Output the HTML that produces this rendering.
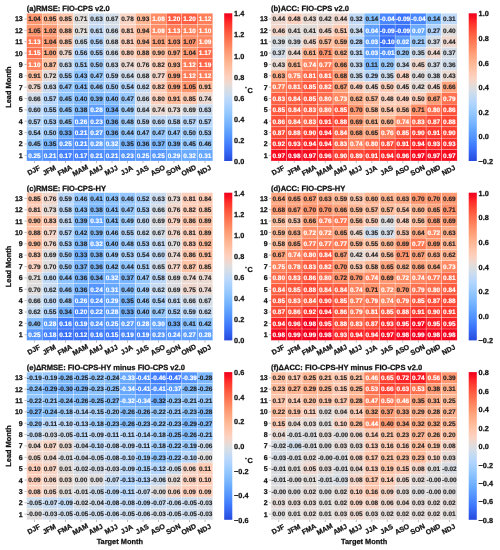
<!DOCTYPE html>
<html lang="en"><head><meta charset="utf-8"><title>FIO-CPS heatmaps</title>
<style>html,body{margin:0;padding:0;background:#fff}body{width:500px;height:550px;overflow:hidden}svg{display:block}</style>
</head><body>
<svg width="500" height="550" viewBox="0 0 500 550" font-family="'Liberation Sans', Arial, sans-serif" font-weight="bold" text-rendering="geometricPrecision">
<rect width="500" height="550" fill="#fff"/>
<style>.t text{stroke:#111;stroke-width:0.25px}.t text.d{fill:#262626;stroke:#262626;stroke-width:0.15px}.t text.w{fill:#fff;stroke:#fff;stroke-width:0.15px}</style>
<defs><linearGradient id="cw" x1="0" y1="1" x2="0" y2="0">
<stop offset="0.00%" stop-color="#274adc"/>
<stop offset="3.12%" stop-color="#2d59e8"/>
<stop offset="6.25%" stop-color="#3568f3"/>
<stop offset="9.38%" stop-color="#3d76fc"/>
<stop offset="12.50%" stop-color="#4684ff"/>
<stop offset="15.62%" stop-color="#5091ff"/>
<stop offset="18.75%" stop-color="#5b9dff"/>
<stop offset="21.88%" stop-color="#67a8ff"/>
<stop offset="25.00%" stop-color="#74b3ff"/>
<stop offset="28.12%" stop-color="#81bcff"/>
<stop offset="31.25%" stop-color="#8fc5ff"/>
<stop offset="34.38%" stop-color="#9dccff"/>
<stop offset="37.50%" stop-color="#aad2ff"/>
<stop offset="40.62%" stop-color="#b8d7fc"/>
<stop offset="43.75%" stop-color="#c5daf3"/>
<stop offset="46.88%" stop-color="#d2dde9"/>
<stop offset="50.00%" stop-color="#dfdddd"/>
<stop offset="53.12%" stop-color="#eed8cf"/>
<stop offset="56.25%" stop-color="#fbd2c1"/>
<stop offset="59.38%" stop-color="#ffcab3"/>
<stop offset="62.50%" stop-color="#ffc2a4"/>
<stop offset="65.62%" stop-color="#ffb896"/>
<stop offset="68.75%" stop-color="#ffae88"/>
<stop offset="71.88%" stop-color="#ffa27b"/>
<stop offset="75.00%" stop-color="#ff956d"/>
<stop offset="78.12%" stop-color="#ff8660"/>
<stop offset="81.25%" stop-color="#ff7753"/>
<stop offset="84.38%" stop-color="#ff6747"/>
<stop offset="87.50%" stop-color="#ff563c"/>
<stop offset="90.62%" stop-color="#ff4332"/>
<stop offset="93.75%" stop-color="#ff2e29"/>
<stop offset="96.88%" stop-color="#f91321"/>
<stop offset="100.00%" stop-color="#ef001c"/>
</linearGradient></defs>
<g id="panel-a" class="t">
<text x="26.7" y="11.3" font-size="7.55" fill="#111">(a)RMSE: FIO-CPS v2.0</text>
<g stroke="#fff" stroke-width="0.25">
<rect x="26.70" y="13.30" width="15.51" height="11.36" fill="#ff9870"/>
<rect x="42.21" y="13.30" width="15.51" height="11.36" fill="#ffb28e"/>
<rect x="57.72" y="13.30" width="15.51" height="11.36" fill="#ffc7ad"/>
<rect x="73.22" y="13.30" width="15.51" height="11.36" fill="#e1dddb"/>
<rect x="88.73" y="13.30" width="15.51" height="11.36" fill="#cadbef"/>
<rect x="104.24" y="13.30" width="15.51" height="11.36" fill="#d5dde6"/>
<rect x="119.75" y="13.30" width="15.51" height="11.36" fill="#f8d4c4"/>
<rect x="135.26" y="13.30" width="15.51" height="11.36" fill="#ffb693"/>
<rect x="150.77" y="13.30" width="15.51" height="11.36" fill="#ff8c65"/>
<rect x="166.27" y="13.30" width="15.51" height="11.36" fill="#ff6043"/>
<rect x="181.78" y="13.30" width="15.51" height="11.36" fill="#ff6043"/>
<rect x="197.29" y="13.30" width="15.51" height="11.36" fill="#ff7f5a"/>
<rect x="26.70" y="24.66" width="15.51" height="11.36" fill="#ff956d"/>
<rect x="42.21" y="24.66" width="15.51" height="11.36" fill="#ff9e77"/>
<rect x="57.72" y="24.66" width="15.51" height="11.36" fill="#ffc2a4"/>
<rect x="73.22" y="24.66" width="15.51" height="11.36" fill="#e1dddb"/>
<rect x="88.73" y="24.66" width="15.51" height="11.36" fill="#c4daf4"/>
<rect x="104.24" y="24.66" width="15.51" height="11.36" fill="#d2dde9"/>
<rect x="119.75" y="24.66" width="15.51" height="11.36" fill="#ffceba"/>
<rect x="135.26" y="24.66" width="15.51" height="11.36" fill="#ffb491"/>
<rect x="150.77" y="24.66" width="15.51" height="11.36" fill="#ff8c65"/>
<rect x="166.27" y="24.66" width="15.51" height="11.36" fill="#ff7b56"/>
<rect x="181.78" y="24.66" width="15.51" height="11.36" fill="#ff855e"/>
<rect x="197.29" y="24.66" width="15.51" height="11.36" fill="#ff855e"/>
<rect x="26.70" y="36.02" width="15.51" height="11.36" fill="#ff7b56"/>
<rect x="42.21" y="36.02" width="15.51" height="11.36" fill="#ff9870"/>
<rect x="57.72" y="36.02" width="15.51" height="11.36" fill="#ffc7ad"/>
<rect x="73.22" y="36.02" width="15.51" height="11.36" fill="#cfdceb"/>
<rect x="88.73" y="36.02" width="15.51" height="11.36" fill="#b5d6fe"/>
<rect x="104.24" y="36.02" width="15.51" height="11.36" fill="#d8dde3"/>
<rect x="119.75" y="36.02" width="15.51" height="11.36" fill="#ffceba"/>
<rect x="135.26" y="36.02" width="15.51" height="11.36" fill="#ffb491"/>
<rect x="150.77" y="36.02" width="15.51" height="11.36" fill="#ffa27b"/>
<rect x="166.27" y="36.02" width="15.51" height="11.36" fill="#ff9b74"/>
<rect x="181.78" y="36.02" width="15.51" height="11.36" fill="#ff8f68"/>
<rect x="197.29" y="36.02" width="15.51" height="11.36" fill="#ff8862"/>
<rect x="26.70" y="47.38" width="15.51" height="11.36" fill="#ff7350"/>
<rect x="42.21" y="47.38" width="15.51" height="11.36" fill="#ffa57e"/>
<rect x="57.72" y="47.38" width="15.51" height="11.36" fill="#efd7cd"/>
<rect x="73.22" y="47.38" width="15.51" height="11.36" fill="#b5d6fe"/>
<rect x="88.73" y="47.38" width="15.51" height="11.36" fill="#b1d4ff"/>
<rect x="104.24" y="47.38" width="15.51" height="11.36" fill="#d2dde9"/>
<rect x="119.75" y="47.38" width="15.51" height="11.36" fill="#fdd0bd"/>
<rect x="135.26" y="47.38" width="15.51" height="11.36" fill="#ffc2a4"/>
<rect x="150.77" y="47.38" width="15.51" height="11.36" fill="#ffbd9d"/>
<rect x="166.27" y="47.38" width="15.51" height="11.36" fill="#ffac87"/>
<rect x="181.78" y="47.38" width="15.51" height="11.36" fill="#ff9870"/>
<rect x="197.29" y="47.38" width="15.51" height="11.36" fill="#ff6d4c"/>
<rect x="26.70" y="58.75" width="15.51" height="11.36" fill="#ff855e"/>
<rect x="42.21" y="58.75" width="15.51" height="11.36" fill="#ffc3a6"/>
<rect x="57.72" y="58.75" width="15.51" height="11.36" fill="#cadbef"/>
<rect x="73.22" y="58.75" width="15.51" height="11.36" fill="#a5d0ff"/>
<rect x="88.73" y="58.75" width="15.51" height="11.36" fill="#a2ceff"/>
<rect x="104.24" y="58.75" width="15.51" height="11.36" fill="#cadbef"/>
<rect x="119.75" y="58.75" width="15.51" height="11.36" fill="#ecd9d1"/>
<rect x="135.26" y="58.75" width="15.51" height="11.36" fill="#f1d7cb"/>
<rect x="150.77" y="58.75" width="15.51" height="11.36" fill="#ffcdb8"/>
<rect x="166.27" y="58.75" width="15.51" height="11.36" fill="#ffb693"/>
<rect x="181.78" y="58.75" width="15.51" height="11.36" fill="#ff7f5a"/>
<rect x="197.29" y="58.75" width="15.51" height="11.36" fill="#ff6546"/>
<rect x="26.70" y="70.11" width="15.51" height="11.36" fill="#ffbb9a"/>
<rect x="42.21" y="70.11" width="15.51" height="11.36" fill="#e4dbd8"/>
<rect x="57.72" y="70.11" width="15.51" height="11.36" fill="#b1d4ff"/>
<rect x="73.22" y="70.11" width="15.51" height="11.36" fill="#8bc3ff"/>
<rect x="88.73" y="70.11" width="15.51" height="11.36" fill="#97c9ff"/>
<rect x="104.24" y="70.11" width="15.51" height="11.36" fill="#bdd8f9"/>
<rect x="119.75" y="70.11" width="15.51" height="11.36" fill="#cddced"/>
<rect x="135.26" y="70.11" width="15.51" height="11.36" fill="#d8dde3"/>
<rect x="150.77" y="70.11" width="15.51" height="11.36" fill="#f4d5c8"/>
<rect x="166.27" y="70.11" width="15.51" height="11.36" fill="#ffa680"/>
<rect x="181.78" y="70.11" width="15.51" height="11.36" fill="#ff7f5a"/>
<rect x="197.29" y="70.11" width="15.51" height="11.36" fill="#ff7f5a"/>
<rect x="26.70" y="81.47" width="15.51" height="11.36" fill="#efd7cd"/>
<rect x="42.21" y="81.47" width="15.51" height="11.36" fill="#cadbef"/>
<rect x="57.72" y="81.47" width="15.51" height="11.36" fill="#97c9ff"/>
<rect x="73.22" y="81.47" width="15.51" height="11.36" fill="#85beff"/>
<rect x="88.73" y="81.47" width="15.51" height="11.36" fill="#96c8ff"/>
<rect x="104.24" y="81.47" width="15.51" height="11.36" fill="#a2ceff"/>
<rect x="119.75" y="81.47" width="15.51" height="11.36" fill="#aed3ff"/>
<rect x="135.26" y="81.47" width="15.51" height="11.36" fill="#c7dbf2"/>
<rect x="150.77" y="81.47" width="15.51" height="11.36" fill="#ffcdb8"/>
<rect x="166.27" y="81.47" width="15.51" height="11.36" fill="#ffa680"/>
<rect x="181.78" y="81.47" width="15.51" height="11.36" fill="#ff956d"/>
<rect x="197.29" y="81.47" width="15.51" height="11.36" fill="#ffbb9a"/>
<rect x="26.70" y="92.83" width="15.51" height="11.36" fill="#d2dde9"/>
<rect x="42.21" y="92.83" width="15.51" height="11.36" fill="#b8d7fc"/>
<rect x="57.72" y="92.83" width="15.51" height="11.36" fill="#92c7ff"/>
<rect x="73.22" y="92.83" width="15.51" height="11.36" fill="#83bdff"/>
<rect x="88.73" y="92.83" width="15.51" height="11.36" fill="#80bbff"/>
<rect x="104.24" y="92.83" width="15.51" height="11.36" fill="#83bdff"/>
<rect x="119.75" y="92.83" width="15.51" height="11.36" fill="#97c9ff"/>
<rect x="135.26" y="92.83" width="15.51" height="11.36" fill="#d2dde9"/>
<rect x="150.77" y="92.83" width="15.51" height="11.36" fill="#fdd0bd"/>
<rect x="166.27" y="92.83" width="15.51" height="11.36" fill="#ffbb9a"/>
<rect x="181.78" y="92.83" width="15.51" height="11.36" fill="#ffc7ad"/>
<rect x="197.29" y="92.83" width="15.51" height="11.36" fill="#ecd9d1"/>
<rect x="26.70" y="104.19" width="15.51" height="11.36" fill="#c0d9f7"/>
<rect x="42.21" y="104.19" width="15.51" height="11.36" fill="#b1d4ff"/>
<rect x="57.72" y="104.19" width="15.51" height="11.36" fill="#92c7ff"/>
<rect x="73.22" y="104.19" width="15.51" height="11.36" fill="#7cb9ff"/>
<rect x="88.73" y="104.19" width="15.51" height="11.36" fill="#60a1ff"/>
<rect x="104.24" y="104.19" width="15.51" height="11.36" fill="#71b0ff"/>
<rect x="119.75" y="104.19" width="15.51" height="11.36" fill="#9ecdff"/>
<rect x="135.26" y="104.19" width="15.51" height="11.36" fill="#cddced"/>
<rect x="150.77" y="104.19" width="15.51" height="11.36" fill="#ecd9d1"/>
<rect x="166.27" y="104.19" width="15.51" height="11.36" fill="#e8dad4"/>
<rect x="181.78" y="104.19" width="15.51" height="11.36" fill="#dbdde0"/>
<rect x="197.29" y="104.19" width="15.51" height="11.36" fill="#cadbef"/>
<rect x="26.70" y="115.55" width="15.51" height="11.36" fill="#b8d7fc"/>
<rect x="42.21" y="115.55" width="15.51" height="11.36" fill="#aad2ff"/>
<rect x="57.72" y="115.55" width="15.51" height="11.36" fill="#92c7ff"/>
<rect x="73.22" y="115.55" width="15.51" height="11.36" fill="#5a9bff"/>
<rect x="88.73" y="115.55" width="15.51" height="11.36" fill="#5394ff"/>
<rect x="104.24" y="115.55" width="15.51" height="11.36" fill="#76b4ff"/>
<rect x="119.75" y="115.55" width="15.51" height="11.36" fill="#9bcbff"/>
<rect x="135.26" y="115.55" width="15.51" height="11.36" fill="#bdd8f9"/>
<rect x="150.77" y="115.55" width="15.51" height="11.36" fill="#c0d9f7"/>
<rect x="166.27" y="115.55" width="15.51" height="11.36" fill="#bbd8fa"/>
<rect x="181.78" y="115.55" width="15.51" height="11.36" fill="#b8d7fc"/>
<rect x="197.29" y="115.55" width="15.51" height="11.36" fill="#b8d7fc"/>
<rect x="26.70" y="126.92" width="15.51" height="11.36" fill="#aed3ff"/>
<rect x="42.21" y="126.92" width="15.51" height="11.36" fill="#a2ceff"/>
<rect x="57.72" y="126.92" width="15.51" height="11.36" fill="#6eaeff"/>
<rect x="73.22" y="126.92" width="15.51" height="11.36" fill="#4e8eff"/>
<rect x="88.73" y="126.92" width="15.51" height="11.36" fill="#5d9eff"/>
<rect x="104.24" y="126.92" width="15.51" height="11.36" fill="#76b4ff"/>
<rect x="119.75" y="126.92" width="15.51" height="11.36" fill="#8fc5ff"/>
<rect x="135.26" y="126.92" width="15.51" height="11.36" fill="#97c9ff"/>
<rect x="150.77" y="126.92" width="15.51" height="11.36" fill="#97c9ff"/>
<rect x="166.27" y="126.92" width="15.51" height="11.36" fill="#97c9ff"/>
<rect x="181.78" y="126.92" width="15.51" height="11.36" fill="#a2ceff"/>
<rect x="197.29" y="126.92" width="15.51" height="11.36" fill="#aad2ff"/>
<rect x="26.70" y="138.28" width="15.51" height="11.36" fill="#92c7ff"/>
<rect x="42.21" y="138.28" width="15.51" height="11.36" fill="#74b3ff"/>
<rect x="57.72" y="138.28" width="15.51" height="11.36" fill="#5798ff"/>
<rect x="73.22" y="138.28" width="15.51" height="11.36" fill="#4e8eff"/>
<rect x="88.73" y="138.28" width="15.51" height="11.36" fill="#60a1ff"/>
<rect x="104.24" y="138.28" width="15.51" height="11.36" fill="#6babff"/>
<rect x="119.75" y="138.28" width="15.51" height="11.36" fill="#74b3ff"/>
<rect x="135.26" y="138.28" width="15.51" height="11.36" fill="#76b4ff"/>
<rect x="150.77" y="138.28" width="15.51" height="11.36" fill="#79b6ff"/>
<rect x="166.27" y="138.28" width="15.51" height="11.36" fill="#80bbff"/>
<rect x="181.78" y="138.28" width="15.51" height="11.36" fill="#92c7ff"/>
<rect x="197.29" y="138.28" width="15.51" height="11.36" fill="#96c8ff"/>
<rect x="26.70" y="149.64" width="15.51" height="11.36" fill="#5798ff"/>
<rect x="42.21" y="149.64" width="15.51" height="11.36" fill="#4e8eff"/>
<rect x="57.72" y="149.64" width="15.51" height="11.36" fill="#4582ff"/>
<rect x="73.22" y="149.64" width="15.51" height="11.36" fill="#4582ff"/>
<rect x="88.73" y="149.64" width="15.51" height="11.36" fill="#4e8eff"/>
<rect x="104.24" y="149.64" width="15.51" height="11.36" fill="#4e8eff"/>
<rect x="119.75" y="149.64" width="15.51" height="11.36" fill="#5394ff"/>
<rect x="135.26" y="149.64" width="15.51" height="11.36" fill="#5798ff"/>
<rect x="150.77" y="149.64" width="15.51" height="11.36" fill="#5798ff"/>
<rect x="166.27" y="149.64" width="15.51" height="11.36" fill="#63a4ff"/>
<rect x="181.78" y="149.64" width="15.51" height="11.36" fill="#6babff"/>
<rect x="197.29" y="149.64" width="15.51" height="11.36" fill="#67a8ff"/>
</g>
<g font-size="6.45" text-anchor="middle" stroke-width="0.15">
<text x="34.45" y="21.27" class="d">1.04</text>
<text x="49.96" y="21.27" class="d">0.95</text>
<text x="65.47" y="21.27" class="d">0.85</text>
<text x="80.98" y="21.27" class="d">0.71</text>
<text x="96.49" y="21.27" class="d">0.63</text>
<text x="112.00" y="21.27" class="d">0.67</text>
<text x="127.50" y="21.27" class="d">0.78</text>
<text x="143.01" y="21.27" class="d">0.93</text>
<text x="158.52" y="21.27" class="w">1.08</text>
<text x="174.03" y="21.27" class="w">1.20</text>
<text x="189.54" y="21.27" class="w">1.20</text>
<text x="205.05" y="21.27" class="w">1.12</text>
<text x="34.45" y="32.63" class="d">1.05</text>
<text x="49.96" y="32.63" class="d">1.02</text>
<text x="65.47" y="32.63" class="d">0.88</text>
<text x="80.98" y="32.63" class="d">0.71</text>
<text x="96.49" y="32.63" class="d">0.61</text>
<text x="112.00" y="32.63" class="d">0.66</text>
<text x="127.50" y="32.63" class="d">0.81</text>
<text x="143.01" y="32.63" class="d">0.94</text>
<text x="158.52" y="32.63" class="w">1.08</text>
<text x="174.03" y="32.63" class="w">1.13</text>
<text x="189.54" y="32.63" class="w">1.10</text>
<text x="205.05" y="32.63" class="w">1.10</text>
<text x="34.45" y="43.99" class="w">1.13</text>
<text x="49.96" y="43.99" class="d">1.04</text>
<text x="65.47" y="43.99" class="d">0.85</text>
<text x="80.98" y="43.99" class="d">0.65</text>
<text x="96.49" y="43.99" class="d">0.56</text>
<text x="112.00" y="43.99" class="d">0.68</text>
<text x="127.50" y="43.99" class="d">0.81</text>
<text x="143.01" y="43.99" class="d">0.94</text>
<text x="158.52" y="43.99" class="d">1.01</text>
<text x="174.03" y="43.99" class="d">1.03</text>
<text x="189.54" y="43.99" class="d">1.07</text>
<text x="205.05" y="43.99" class="w">1.09</text>
<text x="34.45" y="55.36" class="w">1.15</text>
<text x="49.96" y="55.36" class="d">1.00</text>
<text x="65.47" y="55.36" class="d">0.75</text>
<text x="80.98" y="55.36" class="d">0.56</text>
<text x="96.49" y="55.36" class="d">0.55</text>
<text x="112.00" y="55.36" class="d">0.66</text>
<text x="127.50" y="55.36" class="d">0.80</text>
<text x="143.01" y="55.36" class="d">0.88</text>
<text x="158.52" y="55.36" class="d">0.90</text>
<text x="174.03" y="55.36" class="d">0.97</text>
<text x="189.54" y="55.36" class="d">1.04</text>
<text x="205.05" y="55.36" class="w">1.17</text>
<text x="34.45" y="66.72" class="w">1.10</text>
<text x="49.96" y="66.72" class="d">0.87</text>
<text x="65.47" y="66.72" class="d">0.63</text>
<text x="80.98" y="66.72" class="d">0.51</text>
<text x="96.49" y="66.72" class="d">0.50</text>
<text x="112.00" y="66.72" class="d">0.63</text>
<text x="127.50" y="66.72" class="d">0.74</text>
<text x="143.01" y="66.72" class="d">0.76</text>
<text x="158.52" y="66.72" class="d">0.82</text>
<text x="174.03" y="66.72" class="d">0.93</text>
<text x="189.54" y="66.72" class="w">1.12</text>
<text x="205.05" y="66.72" class="w">1.19</text>
<text x="34.45" y="78.08" class="d">0.91</text>
<text x="49.96" y="78.08" class="d">0.72</text>
<text x="65.47" y="78.08" class="d">0.55</text>
<text x="80.98" y="78.08" class="d">0.43</text>
<text x="96.49" y="78.08" class="d">0.47</text>
<text x="112.00" y="78.08" class="d">0.59</text>
<text x="127.50" y="78.08" class="d">0.64</text>
<text x="143.01" y="78.08" class="d">0.68</text>
<text x="158.52" y="78.08" class="d">0.77</text>
<text x="174.03" y="78.08" class="d">0.99</text>
<text x="189.54" y="78.08" class="w">1.12</text>
<text x="205.05" y="78.08" class="w">1.12</text>
<text x="34.45" y="89.44" class="d">0.75</text>
<text x="49.96" y="89.44" class="d">0.63</text>
<text x="65.47" y="89.44" class="d">0.47</text>
<text x="80.98" y="89.44" class="d">0.41</text>
<text x="96.49" y="89.44" class="d">0.46</text>
<text x="112.00" y="89.44" class="d">0.50</text>
<text x="127.50" y="89.44" class="d">0.54</text>
<text x="143.01" y="89.44" class="d">0.62</text>
<text x="158.52" y="89.44" class="d">0.82</text>
<text x="174.03" y="89.44" class="d">0.99</text>
<text x="189.54" y="89.44" class="d">1.05</text>
<text x="205.05" y="89.44" class="d">0.91</text>
<text x="34.45" y="100.80" class="d">0.66</text>
<text x="49.96" y="100.80" class="d">0.57</text>
<text x="65.47" y="100.80" class="d">0.45</text>
<text x="80.98" y="100.80" class="d">0.40</text>
<text x="96.49" y="100.80" class="d">0.39</text>
<text x="112.00" y="100.80" class="d">0.40</text>
<text x="127.50" y="100.80" class="d">0.47</text>
<text x="143.01" y="100.80" class="d">0.66</text>
<text x="158.52" y="100.80" class="d">0.80</text>
<text x="174.03" y="100.80" class="d">0.91</text>
<text x="189.54" y="100.80" class="d">0.85</text>
<text x="205.05" y="100.80" class="d">0.74</text>
<text x="34.45" y="112.16" class="d">0.60</text>
<text x="49.96" y="112.16" class="d">0.55</text>
<text x="65.47" y="112.16" class="d">0.45</text>
<text x="80.98" y="112.16" class="d">0.38</text>
<text x="96.49" y="112.16" class="w">0.28</text>
<text x="112.00" y="112.16" class="d">0.34</text>
<text x="127.50" y="112.16" class="d">0.49</text>
<text x="143.01" y="112.16" class="d">0.64</text>
<text x="158.52" y="112.16" class="d">0.74</text>
<text x="174.03" y="112.16" class="d">0.73</text>
<text x="189.54" y="112.16" class="d">0.69</text>
<text x="205.05" y="112.16" class="d">0.63</text>
<text x="34.45" y="123.52" class="d">0.57</text>
<text x="49.96" y="123.52" class="d">0.53</text>
<text x="65.47" y="123.52" class="d">0.45</text>
<text x="80.98" y="123.52" class="w">0.26</text>
<text x="96.49" y="123.52" class="w">0.23</text>
<text x="112.00" y="123.52" class="d">0.36</text>
<text x="127.50" y="123.52" class="d">0.48</text>
<text x="143.01" y="123.52" class="d">0.59</text>
<text x="158.52" y="123.52" class="d">0.60</text>
<text x="174.03" y="123.52" class="d">0.58</text>
<text x="189.54" y="123.52" class="d">0.57</text>
<text x="205.05" y="123.52" class="d">0.57</text>
<text x="34.45" y="134.89" class="d">0.54</text>
<text x="49.96" y="134.89" class="d">0.50</text>
<text x="65.47" y="134.89" class="d">0.33</text>
<text x="80.98" y="134.89" class="w">0.21</text>
<text x="96.49" y="134.89" class="w">0.27</text>
<text x="112.00" y="134.89" class="d">0.36</text>
<text x="127.50" y="134.89" class="d">0.44</text>
<text x="143.01" y="134.89" class="d">0.47</text>
<text x="158.52" y="134.89" class="d">0.47</text>
<text x="174.03" y="134.89" class="d">0.47</text>
<text x="189.54" y="134.89" class="d">0.50</text>
<text x="205.05" y="134.89" class="d">0.53</text>
<text x="34.45" y="146.25" class="d">0.45</text>
<text x="49.96" y="146.25" class="d">0.35</text>
<text x="65.47" y="146.25" class="w">0.25</text>
<text x="80.98" y="146.25" class="w">0.21</text>
<text x="96.49" y="146.25" class="w">0.28</text>
<text x="112.00" y="146.25" class="w">0.32</text>
<text x="127.50" y="146.25" class="d">0.35</text>
<text x="143.01" y="146.25" class="d">0.36</text>
<text x="158.52" y="146.25" class="d">0.37</text>
<text x="174.03" y="146.25" class="d">0.39</text>
<text x="189.54" y="146.25" class="d">0.45</text>
<text x="205.05" y="146.25" class="d">0.46</text>
<text x="34.45" y="157.61" class="w">0.25</text>
<text x="49.96" y="157.61" class="w">0.21</text>
<text x="65.47" y="157.61" class="w">0.17</text>
<text x="80.98" y="157.61" class="w">0.17</text>
<text x="96.49" y="157.61" class="w">0.21</text>
<text x="112.00" y="157.61" class="w">0.21</text>
<text x="127.50" y="157.61" class="w">0.23</text>
<text x="143.01" y="157.61" class="w">0.25</text>
<text x="158.52" y="157.61" class="w">0.25</text>
<text x="174.03" y="157.61" class="w">0.29</text>
<text x="189.54" y="157.61" class="w">0.32</text>
<text x="205.05" y="157.61" class="w">0.31</text>
</g>
<g font-size="7.0" text-anchor="end" fill="#111">
<line x1="24.5" x2="26.7" y1="18.98" y2="18.98" stroke="#666" stroke-width="0.45"/>
<text x="22.7" y="21.47">13</text>
<line x1="24.5" x2="26.7" y1="30.34" y2="30.34" stroke="#666" stroke-width="0.45"/>
<text x="22.7" y="32.83">12</text>
<line x1="24.5" x2="26.7" y1="41.70" y2="41.70" stroke="#666" stroke-width="0.45"/>
<text x="22.7" y="44.19">11</text>
<line x1="24.5" x2="26.7" y1="53.07" y2="53.07" stroke="#666" stroke-width="0.45"/>
<text x="22.7" y="55.55">10</text>
<line x1="24.5" x2="26.7" y1="64.43" y2="64.43" stroke="#666" stroke-width="0.45"/>
<text x="22.7" y="66.91">9</text>
<line x1="24.5" x2="26.7" y1="75.79" y2="75.79" stroke="#666" stroke-width="0.45"/>
<text x="22.7" y="78.27">8</text>
<line x1="24.5" x2="26.7" y1="87.15" y2="87.15" stroke="#666" stroke-width="0.45"/>
<text x="22.7" y="89.63">7</text>
<line x1="24.5" x2="26.7" y1="98.51" y2="98.51" stroke="#666" stroke-width="0.45"/>
<text x="22.7" y="101.00">6</text>
<line x1="24.5" x2="26.7" y1="109.87" y2="109.87" stroke="#666" stroke-width="0.45"/>
<text x="22.7" y="112.36">5</text>
<line x1="24.5" x2="26.7" y1="121.23" y2="121.23" stroke="#666" stroke-width="0.45"/>
<text x="22.7" y="123.72">4</text>
<line x1="24.5" x2="26.7" y1="132.60" y2="132.60" stroke="#666" stroke-width="0.45"/>
<text x="22.7" y="135.08">3</text>
<line x1="24.5" x2="26.7" y1="143.96" y2="143.96" stroke="#666" stroke-width="0.45"/>
<text x="22.7" y="146.44">2</text>
<line x1="24.5" x2="26.7" y1="155.32" y2="155.32" stroke="#666" stroke-width="0.45"/>
<text x="22.7" y="157.80">1</text>
</g>
<g font-size="7.0" text-anchor="middle" fill="#111">
<line x1="34.45" x2="34.45" y1="161.0" y2="163.2" stroke="#666" stroke-width="0.45"/>
<text transform="translate(33.65,170.30) rotate(-28)" y="2.48">DJF</text>
<line x1="49.96" x2="49.96" y1="161.0" y2="163.2" stroke="#666" stroke-width="0.45"/>
<text transform="translate(49.16,170.30) rotate(-28)" y="2.48">JFM</text>
<line x1="65.47" x2="65.47" y1="161.0" y2="163.2" stroke="#666" stroke-width="0.45"/>
<text transform="translate(64.67,170.30) rotate(-28)" y="2.48">FMA</text>
<line x1="80.98" x2="80.98" y1="161.0" y2="163.2" stroke="#666" stroke-width="0.45"/>
<text transform="translate(80.18,170.30) rotate(-28)" y="2.48">MAM</text>
<line x1="96.49" x2="96.49" y1="161.0" y2="163.2" stroke="#666" stroke-width="0.45"/>
<text transform="translate(95.69,170.30) rotate(-28)" y="2.48">AMJ</text>
<line x1="112.00" x2="112.00" y1="161.0" y2="163.2" stroke="#666" stroke-width="0.45"/>
<text transform="translate(111.20,170.30) rotate(-28)" y="2.48">MJJ</text>
<line x1="127.50" x2="127.50" y1="161.0" y2="163.2" stroke="#666" stroke-width="0.45"/>
<text transform="translate(126.70,170.30) rotate(-28)" y="2.48">JJA</text>
<line x1="143.01" x2="143.01" y1="161.0" y2="163.2" stroke="#666" stroke-width="0.45"/>
<text transform="translate(142.21,170.30) rotate(-28)" y="2.48">JAS</text>
<line x1="158.52" x2="158.52" y1="161.0" y2="163.2" stroke="#666" stroke-width="0.45"/>
<text transform="translate(157.72,170.30) rotate(-28)" y="2.48">ASO</text>
<line x1="174.03" x2="174.03" y1="161.0" y2="163.2" stroke="#666" stroke-width="0.45"/>
<text transform="translate(173.23,170.30) rotate(-28)" y="2.48">SON</text>
<line x1="189.54" x2="189.54" y1="161.0" y2="163.2" stroke="#666" stroke-width="0.45"/>
<text transform="translate(188.74,170.30) rotate(-28)" y="2.48">OND</text>
<line x1="205.05" x2="205.05" y1="161.0" y2="163.2" stroke="#666" stroke-width="0.45"/>
<text transform="translate(204.25,170.30) rotate(-28)" y="2.48">NDJ</text>
</g>
<rect x="224.2" y="13.3" width="8.1" height="147.7" fill="url(#cw)"/>
<g font-size="7.3" fill="#111">
<text x="234.1" y="164.09">0.0</text>
<text x="234.1" y="142.99">0.2</text>
<text x="234.1" y="121.89">0.4</text>
<text x="234.1" y="100.79">0.6</text>
<text x="234.1" y="79.69">0.8</text>
<text x="234.1" y="58.59">1.0</text>
<text x="234.1" y="37.49">1.2</text>
<text x="234.1" y="16.39">1.4</text>
</g>
<text x="245.1" y="92.7" font-size="7.2" fill="#111"><tspan font-size="4.6" dy="-2.6">°</tspan><tspan dy="2.6" dx="0.6">C</tspan></text>
<text transform="translate(11.0,87.1) rotate(-90)" text-anchor="middle" font-size="7.4" fill="#111">Lead Month</text>
</g>
<g id="panel-b" class="t">
<text x="271.0" y="11.3" font-size="7.55" fill="#111">(b)ACC: FIO-CPS v2.0</text>
<g stroke="#fff" stroke-width="0.25">
<rect x="271.00" y="13.30" width="15.51" height="11.36" fill="#eed8cf"/>
<rect x="286.51" y="13.30" width="15.51" height="11.36" fill="#fcd1bf"/>
<rect x="302.02" y="13.30" width="15.51" height="11.36" fill="#eadad2"/>
<rect x="317.52" y="13.30" width="15.51" height="11.36" fill="#e6dbd6"/>
<rect x="333.03" y="13.30" width="15.51" height="11.36" fill="#eed8cf"/>
<rect x="348.54" y="13.30" width="15.51" height="11.36" fill="#c2daf6"/>
<rect x="364.05" y="13.30" width="15.51" height="11.36" fill="#81bcff"/>
<rect x="379.56" y="13.30" width="15.51" height="11.36" fill="#4987ff"/>
<rect x="395.07" y="13.30" width="15.51" height="11.36" fill="#3c74fb"/>
<rect x="410.57" y="13.30" width="15.51" height="11.36" fill="#4987ff"/>
<rect x="426.08" y="13.30" width="15.51" height="11.36" fill="#81bcff"/>
<rect x="441.59" y="13.30" width="15.51" height="11.36" fill="#bfd9f8"/>
<rect x="271.00" y="24.66" width="15.51" height="11.36" fill="#f4d5c8"/>
<rect x="286.51" y="24.66" width="15.51" height="11.36" fill="#e2dcd9"/>
<rect x="302.02" y="24.66" width="15.51" height="11.36" fill="#e2dcd9"/>
<rect x="317.52" y="24.66" width="15.51" height="11.36" fill="#f1d7cb"/>
<rect x="333.03" y="24.66" width="15.51" height="11.36" fill="#ffcbb4"/>
<rect x="348.54" y="24.66" width="15.51" height="11.36" fill="#cadbef"/>
<rect x="364.05" y="24.66" width="15.51" height="11.36" fill="#60a1ff"/>
<rect x="379.56" y="24.66" width="15.51" height="11.36" fill="#3c74fb"/>
<rect x="395.07" y="24.66" width="15.51" height="11.36" fill="#3c74fb"/>
<rect x="410.57" y="24.66" width="15.51" height="11.36" fill="#69aaff"/>
<rect x="426.08" y="24.66" width="15.51" height="11.36" fill="#b1d4ff"/>
<rect x="441.59" y="24.66" width="15.51" height="11.36" fill="#dfdddd"/>
<rect x="271.00" y="36.02" width="15.51" height="11.36" fill="#dadde1"/>
<rect x="286.51" y="36.02" width="15.51" height="11.36" fill="#dadde1"/>
<rect x="302.02" y="36.02" width="15.51" height="11.36" fill="#f1d7cb"/>
<rect x="317.52" y="36.02" width="15.51" height="11.36" fill="#ffbd9d"/>
<rect x="333.03" y="36.02" width="15.51" height="11.36" fill="#ffb896"/>
<rect x="348.54" y="36.02" width="15.51" height="11.36" fill="#b5d6fe"/>
<rect x="364.05" y="36.02" width="15.51" height="11.36" fill="#5d9eff"/>
<rect x="379.56" y="36.02" width="15.51" height="11.36" fill="#3a71f9"/>
<rect x="395.07" y="36.02" width="15.51" height="11.36" fill="#599aff"/>
<rect x="410.57" y="36.02" width="15.51" height="11.36" fill="#9bcbff"/>
<rect x="426.08" y="36.02" width="15.51" height="11.36" fill="#d4dde7"/>
<rect x="441.59" y="36.02" width="15.51" height="11.36" fill="#eed8cf"/>
<rect x="271.00" y="47.38" width="15.51" height="11.36" fill="#d4dde7"/>
<rect x="286.51" y="47.38" width="15.51" height="11.36" fill="#eed8cf"/>
<rect x="302.02" y="47.38" width="15.51" height="11.36" fill="#ffb38f"/>
<rect x="317.52" y="47.38" width="15.51" height="11.36" fill="#ff916a"/>
<rect x="333.03" y="47.38" width="15.51" height="11.36" fill="#ffb08c"/>
<rect x="348.54" y="47.38" width="15.51" height="11.36" fill="#bfd9f8"/>
<rect x="364.05" y="47.38" width="15.51" height="11.36" fill="#5d9eff"/>
<rect x="379.56" y="47.38" width="15.51" height="11.36" fill="#5091ff"/>
<rect x="395.07" y="47.38" width="15.51" height="11.36" fill="#97c9ff"/>
<rect x="410.57" y="47.38" width="15.51" height="11.36" fill="#cddced"/>
<rect x="426.08" y="47.38" width="15.51" height="11.36" fill="#eed8cf"/>
<rect x="441.59" y="47.38" width="15.51" height="11.36" fill="#d4dde7"/>
<rect x="271.00" y="58.75" width="15.51" height="11.36" fill="#eadad2"/>
<rect x="286.51" y="58.75" width="15.51" height="11.36" fill="#ffb38f"/>
<rect x="302.02" y="58.75" width="15.51" height="11.36" fill="#ff8660"/>
<rect x="317.52" y="58.75" width="15.51" height="11.36" fill="#ff7b56"/>
<rect x="333.03" y="58.75" width="15.51" height="11.36" fill="#ffa37c"/>
<rect x="348.54" y="58.75" width="15.51" height="11.36" fill="#c7dbf2"/>
<rect x="364.05" y="58.75" width="15.51" height="11.36" fill="#77b5ff"/>
<rect x="379.56" y="58.75" width="15.51" height="11.36" fill="#97c9ff"/>
<rect x="395.07" y="58.75" width="15.51" height="11.36" fill="#cadbef"/>
<rect x="410.57" y="58.75" width="15.51" height="11.36" fill="#f1d7cb"/>
<rect x="426.08" y="58.75" width="15.51" height="11.36" fill="#d4dde7"/>
<rect x="441.59" y="58.75" width="15.51" height="11.36" fill="#d0dcea"/>
<rect x="271.00" y="70.11" width="15.51" height="11.36" fill="#ffac87"/>
<rect x="286.51" y="70.11" width="15.51" height="11.36" fill="#ff835d"/>
<rect x="302.02" y="70.11" width="15.51" height="11.36" fill="#ff6949"/>
<rect x="317.52" y="70.11" width="15.51" height="11.36" fill="#ff6949"/>
<rect x="333.03" y="70.11" width="15.51" height="11.36" fill="#ff9d76"/>
<rect x="348.54" y="70.11" width="15.51" height="11.36" fill="#cddced"/>
<rect x="364.05" y="70.11" width="15.51" height="11.36" fill="#b8d7fc"/>
<rect x="379.56" y="70.11" width="15.51" height="11.36" fill="#cddced"/>
<rect x="395.07" y="70.11" width="15.51" height="11.36" fill="#fcd1bf"/>
<rect x="410.57" y="70.11" width="15.51" height="11.36" fill="#dfdddd"/>
<rect x="426.08" y="70.11" width="15.51" height="11.36" fill="#d7dde4"/>
<rect x="441.59" y="70.11" width="15.51" height="11.36" fill="#eadad2"/>
<rect x="271.00" y="81.47" width="15.51" height="11.36" fill="#ff7b56"/>
<rect x="286.51" y="81.47" width="15.51" height="11.36" fill="#ff6949"/>
<rect x="302.02" y="81.47" width="15.51" height="11.36" fill="#ff563c"/>
<rect x="317.52" y="81.47" width="15.51" height="11.36" fill="#ff6546"/>
<rect x="333.03" y="81.47" width="15.51" height="11.36" fill="#ffa079"/>
<rect x="348.54" y="81.47" width="15.51" height="11.36" fill="#ffcfbb"/>
<rect x="364.05" y="81.47" width="15.51" height="11.36" fill="#f1d7cb"/>
<rect x="379.56" y="81.47" width="15.51" height="11.36" fill="#ffcdb8"/>
<rect x="395.07" y="81.47" width="15.51" height="11.36" fill="#f1d7cb"/>
<rect x="410.57" y="81.47" width="15.51" height="11.36" fill="#e6dbd6"/>
<rect x="426.08" y="81.47" width="15.51" height="11.36" fill="#f1d7cb"/>
<rect x="441.59" y="81.47" width="15.51" height="11.36" fill="#ffa37c"/>
<rect x="271.00" y="92.83" width="15.51" height="11.36" fill="#ff6043"/>
<rect x="286.51" y="92.83" width="15.51" height="11.36" fill="#ff5c40"/>
<rect x="302.02" y="92.83" width="15.51" height="11.36" fill="#ff563c"/>
<rect x="317.52" y="92.83" width="15.51" height="11.36" fill="#ff6d4c"/>
<rect x="333.03" y="92.83" width="15.51" height="11.36" fill="#ff8a63"/>
<rect x="348.54" y="92.83" width="15.51" height="11.36" fill="#ffb08c"/>
<rect x="364.05" y="92.83" width="15.51" height="11.36" fill="#ffbd9d"/>
<rect x="379.56" y="92.83" width="15.51" height="11.36" fill="#fcd1bf"/>
<rect x="395.07" y="92.83" width="15.51" height="11.36" fill="#ffcfbb"/>
<rect x="410.57" y="92.83" width="15.51" height="11.36" fill="#ffcdb8"/>
<rect x="426.08" y="92.83" width="15.51" height="11.36" fill="#ffa079"/>
<rect x="441.59" y="92.83" width="15.51" height="11.36" fill="#ff714f"/>
<rect x="271.00" y="104.19" width="15.51" height="11.36" fill="#ff563c"/>
<rect x="286.51" y="104.19" width="15.51" height="11.36" fill="#ff5c40"/>
<rect x="302.02" y="104.19" width="15.51" height="11.36" fill="#ff6043"/>
<rect x="317.52" y="104.19" width="15.51" height="11.36" fill="#ff6d4c"/>
<rect x="333.03" y="104.19" width="15.51" height="11.36" fill="#ff563c"/>
<rect x="348.54" y="104.19" width="15.51" height="11.36" fill="#ff956d"/>
<rect x="364.05" y="104.19" width="15.51" height="11.36" fill="#ffbb9a"/>
<rect x="379.56" y="104.19" width="15.51" height="11.36" fill="#ffc5aa"/>
<rect x="395.07" y="104.19" width="15.51" height="11.36" fill="#ffc0a1"/>
<rect x="410.57" y="104.19" width="15.51" height="11.36" fill="#ff916a"/>
<rect x="426.08" y="104.19" width="15.51" height="11.36" fill="#ff6d4c"/>
<rect x="441.59" y="104.19" width="15.51" height="11.36" fill="#ff5139"/>
<rect x="271.00" y="115.55" width="15.51" height="11.36" fill="#ff5139"/>
<rect x="286.51" y="115.55" width="15.51" height="11.36" fill="#ff5c40"/>
<rect x="302.02" y="115.55" width="15.51" height="11.36" fill="#ff6043"/>
<rect x="317.52" y="115.55" width="15.51" height="11.36" fill="#ff392d"/>
<rect x="333.03" y="115.55" width="15.51" height="11.36" fill="#ff4834"/>
<rect x="348.54" y="115.55" width="15.51" height="11.36" fill="#ff9a72"/>
<rect x="364.05" y="115.55" width="15.51" height="11.36" fill="#ffb38f"/>
<rect x="379.56" y="115.55" width="15.51" height="11.36" fill="#ffb693"/>
<rect x="395.07" y="115.55" width="15.51" height="11.36" fill="#ff8660"/>
<rect x="410.57" y="115.55" width="15.51" height="11.36" fill="#ff6043"/>
<rect x="426.08" y="115.55" width="15.51" height="11.36" fill="#ff4c37"/>
<rect x="441.59" y="115.55" width="15.51" height="11.36" fill="#ff4834"/>
<rect x="271.00" y="126.92" width="15.51" height="11.36" fill="#ff4c37"/>
<rect x="286.51" y="126.92" width="15.51" height="11.36" fill="#ff4834"/>
<rect x="302.02" y="126.92" width="15.51" height="11.36" fill="#ff3e2f"/>
<rect x="317.52" y="126.92" width="15.51" height="11.36" fill="#ff2526"/>
<rect x="333.03" y="126.92" width="15.51" height="11.36" fill="#ff5c40"/>
<rect x="348.54" y="126.92" width="15.51" height="11.36" fill="#ff9d76"/>
<rect x="364.05" y="126.92" width="15.51" height="11.36" fill="#ffa680"/>
<rect x="379.56" y="126.92" width="15.51" height="11.36" fill="#ff7f5a"/>
<rect x="395.07" y="126.92" width="15.51" height="11.36" fill="#ff563c"/>
<rect x="410.57" y="126.92" width="15.51" height="11.36" fill="#ff3e2f"/>
<rect x="426.08" y="126.92" width="15.51" height="11.36" fill="#ff392d"/>
<rect x="441.59" y="126.92" width="15.51" height="11.36" fill="#ff3e2f"/>
<rect x="271.00" y="138.28" width="15.51" height="11.36" fill="#ff332b"/>
<rect x="286.51" y="138.28" width="15.51" height="11.36" fill="#ff2b28"/>
<rect x="302.02" y="138.28" width="15.51" height="11.36" fill="#ff2526"/>
<rect x="317.52" y="138.28" width="15.51" height="11.36" fill="#ff2526"/>
<rect x="333.03" y="138.28" width="15.51" height="11.36" fill="#ff6043"/>
<rect x="348.54" y="138.28" width="15.51" height="11.36" fill="#ff8660"/>
<rect x="364.05" y="138.28" width="15.51" height="11.36" fill="#ff6d4c"/>
<rect x="379.56" y="138.28" width="15.51" height="11.36" fill="#ff4c37"/>
<rect x="395.07" y="138.28" width="15.51" height="11.36" fill="#ff392d"/>
<rect x="410.57" y="138.28" width="15.51" height="11.36" fill="#ff2526"/>
<rect x="426.08" y="138.28" width="15.51" height="11.36" fill="#ff2b28"/>
<rect x="441.59" y="138.28" width="15.51" height="11.36" fill="#ff2b28"/>
<rect x="271.00" y="149.64" width="15.51" height="11.36" fill="#f80d20"/>
<rect x="286.51" y="149.64" width="15.51" height="11.36" fill="#f5021f"/>
<rect x="302.02" y="149.64" width="15.51" height="11.36" fill="#f80d20"/>
<rect x="317.52" y="149.64" width="15.51" height="11.36" fill="#fa1822"/>
<rect x="333.03" y="149.64" width="15.51" height="11.36" fill="#ff3e2f"/>
<rect x="348.54" y="149.64" width="15.51" height="11.36" fill="#ff4332"/>
<rect x="364.05" y="149.64" width="15.51" height="11.36" fill="#ff392d"/>
<rect x="379.56" y="149.64" width="15.51" height="11.36" fill="#ff2526"/>
<rect x="395.07" y="149.64" width="15.51" height="11.36" fill="#fa1822"/>
<rect x="410.57" y="149.64" width="15.51" height="11.36" fill="#f80d20"/>
<rect x="426.08" y="149.64" width="15.51" height="11.36" fill="#f80d20"/>
<rect x="441.59" y="149.64" width="15.51" height="11.36" fill="#f80d20"/>
</g>
<g font-size="6.45" text-anchor="middle" stroke-width="0.15">
<text x="278.75" y="21.27" class="d">0.44</text>
<text x="294.26" y="21.27" class="d">0.48</text>
<text x="309.77" y="21.27" class="d">0.43</text>
<text x="325.28" y="21.27" class="d">0.42</text>
<text x="340.79" y="21.27" class="d">0.44</text>
<text x="356.30" y="21.27" class="d">0.32</text>
<text x="371.80" y="21.27" class="d">0.14</text>
<text x="387.31" y="21.27" class="w">-0.04</text>
<text x="402.82" y="21.27" class="w">-0.09</text>
<text x="418.33" y="21.27" class="w">-0.04</text>
<text x="433.84" y="21.27" class="d">0.14</text>
<text x="449.35" y="21.27" class="d">0.31</text>
<text x="278.75" y="32.63" class="d">0.46</text>
<text x="294.26" y="32.63" class="d">0.41</text>
<text x="309.77" y="32.63" class="d">0.41</text>
<text x="325.28" y="32.63" class="d">0.45</text>
<text x="340.79" y="32.63" class="d">0.51</text>
<text x="356.30" y="32.63" class="d">0.34</text>
<text x="371.80" y="32.63" class="w">0.04</text>
<text x="387.31" y="32.63" class="w">-0.09</text>
<text x="402.82" y="32.63" class="w">-0.09</text>
<text x="418.33" y="32.63" class="w">0.07</text>
<text x="433.84" y="32.63" class="d">0.27</text>
<text x="449.35" y="32.63" class="d">0.40</text>
<text x="278.75" y="43.99" class="d">0.39</text>
<text x="294.26" y="43.99" class="d">0.39</text>
<text x="309.77" y="43.99" class="d">0.45</text>
<text x="325.28" y="43.99" class="d">0.57</text>
<text x="340.79" y="43.99" class="d">0.59</text>
<text x="356.30" y="43.99" class="d">0.28</text>
<text x="371.80" y="43.99" class="w">0.03</text>
<text x="387.31" y="43.99" class="w">-0.10</text>
<text x="402.82" y="43.99" class="w">0.02</text>
<text x="418.33" y="43.99" class="d">0.21</text>
<text x="433.84" y="43.99" class="d">0.37</text>
<text x="449.35" y="43.99" class="d">0.44</text>
<text x="278.75" y="55.36" class="d">0.37</text>
<text x="294.26" y="55.36" class="d">0.44</text>
<text x="309.77" y="55.36" class="d">0.61</text>
<text x="325.28" y="55.36" class="d">0.71</text>
<text x="340.79" y="55.36" class="d">0.62</text>
<text x="356.30" y="55.36" class="d">0.31</text>
<text x="371.80" y="55.36" class="w">0.03</text>
<text x="387.31" y="55.36" class="w">-0.01</text>
<text x="402.82" y="55.36" class="d">0.20</text>
<text x="418.33" y="55.36" class="d">0.35</text>
<text x="433.84" y="55.36" class="d">0.44</text>
<text x="449.35" y="55.36" class="d">0.37</text>
<text x="278.75" y="66.72" class="d">0.43</text>
<text x="294.26" y="66.72" class="d">0.61</text>
<text x="309.77" y="66.72" class="w">0.74</text>
<text x="325.28" y="66.72" class="w">0.77</text>
<text x="340.79" y="66.72" class="d">0.66</text>
<text x="356.30" y="66.72" class="d">0.33</text>
<text x="371.80" y="66.72" class="d">0.11</text>
<text x="387.31" y="66.72" class="d">0.20</text>
<text x="402.82" y="66.72" class="d">0.34</text>
<text x="418.33" y="66.72" class="d">0.45</text>
<text x="433.84" y="66.72" class="d">0.37</text>
<text x="449.35" y="66.72" class="d">0.36</text>
<text x="278.75" y="78.08" class="d">0.63</text>
<text x="294.26" y="78.08" class="w">0.75</text>
<text x="309.77" y="78.08" class="w">0.81</text>
<text x="325.28" y="78.08" class="w">0.81</text>
<text x="340.79" y="78.08" class="d">0.68</text>
<text x="356.30" y="78.08" class="d">0.35</text>
<text x="371.80" y="78.08" class="d">0.29</text>
<text x="387.31" y="78.08" class="d">0.35</text>
<text x="402.82" y="78.08" class="d">0.48</text>
<text x="418.33" y="78.08" class="d">0.40</text>
<text x="433.84" y="78.08" class="d">0.38</text>
<text x="449.35" y="78.08" class="d">0.43</text>
<text x="278.75" y="89.44" class="w">0.77</text>
<text x="294.26" y="89.44" class="w">0.81</text>
<text x="309.77" y="89.44" class="w">0.85</text>
<text x="325.28" y="89.44" class="w">0.82</text>
<text x="340.79" y="89.44" class="d">0.67</text>
<text x="356.30" y="89.44" class="d">0.49</text>
<text x="371.80" y="89.44" class="d">0.45</text>
<text x="387.31" y="89.44" class="d">0.50</text>
<text x="402.82" y="89.44" class="d">0.45</text>
<text x="418.33" y="89.44" class="d">0.42</text>
<text x="433.84" y="89.44" class="d">0.45</text>
<text x="449.35" y="89.44" class="d">0.66</text>
<text x="278.75" y="100.80" class="w">0.83</text>
<text x="294.26" y="100.80" class="w">0.84</text>
<text x="309.77" y="100.80" class="w">0.85</text>
<text x="325.28" y="100.80" class="w">0.80</text>
<text x="340.79" y="100.80" class="w">0.73</text>
<text x="356.30" y="100.80" class="d">0.62</text>
<text x="371.80" y="100.80" class="d">0.57</text>
<text x="387.31" y="100.80" class="d">0.48</text>
<text x="402.82" y="100.80" class="d">0.49</text>
<text x="418.33" y="100.80" class="d">0.50</text>
<text x="433.84" y="100.80" class="d">0.67</text>
<text x="449.35" y="100.80" class="w">0.79</text>
<text x="278.75" y="112.16" class="w">0.85</text>
<text x="294.26" y="112.16" class="w">0.84</text>
<text x="309.77" y="112.16" class="w">0.83</text>
<text x="325.28" y="112.16" class="w">0.80</text>
<text x="340.79" y="112.16" class="w">0.85</text>
<text x="356.30" y="112.16" class="d">0.70</text>
<text x="371.80" y="112.16" class="d">0.58</text>
<text x="387.31" y="112.16" class="d">0.54</text>
<text x="402.82" y="112.16" class="d">0.56</text>
<text x="418.33" y="112.16" class="d">0.71</text>
<text x="433.84" y="112.16" class="w">0.80</text>
<text x="449.35" y="112.16" class="w">0.86</text>
<text x="278.75" y="123.52" class="w">0.86</text>
<text x="294.26" y="123.52" class="w">0.84</text>
<text x="309.77" y="123.52" class="w">0.83</text>
<text x="325.28" y="123.52" class="w">0.91</text>
<text x="340.79" y="123.52" class="w">0.88</text>
<text x="356.30" y="123.52" class="d">0.69</text>
<text x="371.80" y="123.52" class="d">0.61</text>
<text x="387.31" y="123.52" class="d">0.60</text>
<text x="402.82" y="123.52" class="w">0.74</text>
<text x="418.33" y="123.52" class="w">0.83</text>
<text x="433.84" y="123.52" class="w">0.87</text>
<text x="449.35" y="123.52" class="w">0.88</text>
<text x="278.75" y="134.89" class="w">0.87</text>
<text x="294.26" y="134.89" class="w">0.88</text>
<text x="309.77" y="134.89" class="w">0.90</text>
<text x="325.28" y="134.89" class="w">0.94</text>
<text x="340.79" y="134.89" class="w">0.84</text>
<text x="356.30" y="134.89" class="d">0.68</text>
<text x="371.80" y="134.89" class="d">0.65</text>
<text x="387.31" y="134.89" class="w">0.76</text>
<text x="402.82" y="134.89" class="w">0.85</text>
<text x="418.33" y="134.89" class="w">0.90</text>
<text x="433.84" y="134.89" class="w">0.91</text>
<text x="449.35" y="134.89" class="w">0.90</text>
<text x="278.75" y="146.25" class="w">0.92</text>
<text x="294.26" y="146.25" class="w">0.93</text>
<text x="309.77" y="146.25" class="w">0.94</text>
<text x="325.28" y="146.25" class="w">0.94</text>
<text x="340.79" y="146.25" class="w">0.83</text>
<text x="356.30" y="146.25" class="w">0.74</text>
<text x="371.80" y="146.25" class="w">0.80</text>
<text x="387.31" y="146.25" class="w">0.87</text>
<text x="402.82" y="146.25" class="w">0.91</text>
<text x="418.33" y="146.25" class="w">0.94</text>
<text x="433.84" y="146.25" class="w">0.93</text>
<text x="449.35" y="146.25" class="w">0.93</text>
<text x="278.75" y="157.61" class="w">0.97</text>
<text x="294.26" y="157.61" class="w">0.98</text>
<text x="309.77" y="157.61" class="w">0.97</text>
<text x="325.28" y="157.61" class="w">0.96</text>
<text x="340.79" y="157.61" class="w">0.90</text>
<text x="356.30" y="157.61" class="w">0.89</text>
<text x="371.80" y="157.61" class="w">0.91</text>
<text x="387.31" y="157.61" class="w">0.94</text>
<text x="402.82" y="157.61" class="w">0.96</text>
<text x="418.33" y="157.61" class="w">0.97</text>
<text x="433.84" y="157.61" class="w">0.97</text>
<text x="449.35" y="157.61" class="w">0.97</text>
</g>
<g font-size="7.0" text-anchor="end" fill="#111">
<line x1="268.8" x2="271.0" y1="18.98" y2="18.98" stroke="#666" stroke-width="0.45"/>
<text x="267.7" y="21.47">13</text>
<line x1="268.8" x2="271.0" y1="30.34" y2="30.34" stroke="#666" stroke-width="0.45"/>
<text x="267.7" y="32.83">12</text>
<line x1="268.8" x2="271.0" y1="41.70" y2="41.70" stroke="#666" stroke-width="0.45"/>
<text x="267.7" y="44.19">11</text>
<line x1="268.8" x2="271.0" y1="53.07" y2="53.07" stroke="#666" stroke-width="0.45"/>
<text x="267.7" y="55.55">10</text>
<line x1="268.8" x2="271.0" y1="64.43" y2="64.43" stroke="#666" stroke-width="0.45"/>
<text x="267.7" y="66.91">9</text>
<line x1="268.8" x2="271.0" y1="75.79" y2="75.79" stroke="#666" stroke-width="0.45"/>
<text x="267.7" y="78.27">8</text>
<line x1="268.8" x2="271.0" y1="87.15" y2="87.15" stroke="#666" stroke-width="0.45"/>
<text x="267.7" y="89.63">7</text>
<line x1="268.8" x2="271.0" y1="98.51" y2="98.51" stroke="#666" stroke-width="0.45"/>
<text x="267.7" y="101.00">6</text>
<line x1="268.8" x2="271.0" y1="109.87" y2="109.87" stroke="#666" stroke-width="0.45"/>
<text x="267.7" y="112.36">5</text>
<line x1="268.8" x2="271.0" y1="121.23" y2="121.23" stroke="#666" stroke-width="0.45"/>
<text x="267.7" y="123.72">4</text>
<line x1="268.8" x2="271.0" y1="132.60" y2="132.60" stroke="#666" stroke-width="0.45"/>
<text x="267.7" y="135.08">3</text>
<line x1="268.8" x2="271.0" y1="143.96" y2="143.96" stroke="#666" stroke-width="0.45"/>
<text x="267.7" y="146.44">2</text>
<line x1="268.8" x2="271.0" y1="155.32" y2="155.32" stroke="#666" stroke-width="0.45"/>
<text x="267.7" y="157.80">1</text>
</g>
<g font-size="7.0" text-anchor="middle" fill="#111">
<line x1="278.75" x2="278.75" y1="161.0" y2="163.2" stroke="#666" stroke-width="0.45"/>
<text transform="translate(277.95,170.30) rotate(-28)" y="2.48">DJF</text>
<line x1="294.26" x2="294.26" y1="161.0" y2="163.2" stroke="#666" stroke-width="0.45"/>
<text transform="translate(293.46,170.30) rotate(-28)" y="2.48">JFM</text>
<line x1="309.77" x2="309.77" y1="161.0" y2="163.2" stroke="#666" stroke-width="0.45"/>
<text transform="translate(308.97,170.30) rotate(-28)" y="2.48">FMA</text>
<line x1="325.28" x2="325.28" y1="161.0" y2="163.2" stroke="#666" stroke-width="0.45"/>
<text transform="translate(324.48,170.30) rotate(-28)" y="2.48">MAM</text>
<line x1="340.79" x2="340.79" y1="161.0" y2="163.2" stroke="#666" stroke-width="0.45"/>
<text transform="translate(339.99,170.30) rotate(-28)" y="2.48">AMJ</text>
<line x1="356.30" x2="356.30" y1="161.0" y2="163.2" stroke="#666" stroke-width="0.45"/>
<text transform="translate(355.50,170.30) rotate(-28)" y="2.48">MJJ</text>
<line x1="371.80" x2="371.80" y1="161.0" y2="163.2" stroke="#666" stroke-width="0.45"/>
<text transform="translate(371.00,170.30) rotate(-28)" y="2.48">JJA</text>
<line x1="387.31" x2="387.31" y1="161.0" y2="163.2" stroke="#666" stroke-width="0.45"/>
<text transform="translate(386.51,170.30) rotate(-28)" y="2.48">JAS</text>
<line x1="402.82" x2="402.82" y1="161.0" y2="163.2" stroke="#666" stroke-width="0.45"/>
<text transform="translate(402.02,170.30) rotate(-28)" y="2.48">ASO</text>
<line x1="418.33" x2="418.33" y1="161.0" y2="163.2" stroke="#666" stroke-width="0.45"/>
<text transform="translate(417.53,170.30) rotate(-28)" y="2.48">SON</text>
<line x1="433.84" x2="433.84" y1="161.0" y2="163.2" stroke="#666" stroke-width="0.45"/>
<text transform="translate(433.04,170.30) rotate(-28)" y="2.48">OND</text>
<line x1="449.35" x2="449.35" y1="161.0" y2="163.2" stroke="#666" stroke-width="0.45"/>
<text transform="translate(448.55,170.30) rotate(-28)" y="2.48">NDJ</text>
</g>
<rect x="468.7" y="13.3" width="8.1" height="147.7" fill="url(#cw)"/>
<g font-size="7.3" fill="#111">
<text x="478.6" y="164.09">−0.2</text>
<text x="478.6" y="139.47">0.0</text>
<text x="478.6" y="114.86">0.2</text>
<text x="478.6" y="90.24">0.4</text>
<text x="478.6" y="65.62">0.6</text>
<text x="478.6" y="41.01">0.8</text>
<text x="478.6" y="16.39">1.0</text>
</g>
</g>
<g id="panel-c" class="t">
<text x="26.7" y="190.7" font-size="7.55" fill="#111">(c)RMSE: FIO-CPS-HY</text>
<g stroke="#fff" stroke-width="0.25">
<rect x="26.70" y="192.70" width="15.51" height="11.36" fill="#ffc7ad"/>
<rect x="42.21" y="192.70" width="15.51" height="11.36" fill="#f1d7cb"/>
<rect x="57.72" y="192.70" width="15.51" height="11.36" fill="#bdd8f9"/>
<rect x="73.22" y="192.70" width="15.51" height="11.36" fill="#96c8ff"/>
<rect x="88.73" y="192.70" width="15.51" height="11.36" fill="#85beff"/>
<rect x="104.24" y="192.70" width="15.51" height="11.36" fill="#8bc3ff"/>
<rect x="119.75" y="192.70" width="15.51" height="11.36" fill="#96c8ff"/>
<rect x="135.26" y="192.70" width="15.51" height="11.36" fill="#a9d1ff"/>
<rect x="150.77" y="192.70" width="15.51" height="11.36" fill="#cadbef"/>
<rect x="166.27" y="192.70" width="15.51" height="11.36" fill="#e8dad4"/>
<rect x="181.78" y="192.70" width="15.51" height="11.36" fill="#ffceba"/>
<rect x="197.29" y="192.70" width="15.51" height="11.36" fill="#ffc9b1"/>
<rect x="26.70" y="204.06" width="15.51" height="11.36" fill="#ffceba"/>
<rect x="42.21" y="204.06" width="15.51" height="11.36" fill="#e8dad4"/>
<rect x="57.72" y="204.06" width="15.51" height="11.36" fill="#bbd8fa"/>
<rect x="73.22" y="204.06" width="15.51" height="11.36" fill="#8bc3ff"/>
<rect x="88.73" y="204.06" width="15.51" height="11.36" fill="#7cb9ff"/>
<rect x="104.24" y="204.06" width="15.51" height="11.36" fill="#85beff"/>
<rect x="119.75" y="204.06" width="15.51" height="11.36" fill="#97c9ff"/>
<rect x="135.26" y="204.06" width="15.51" height="11.36" fill="#aad2ff"/>
<rect x="150.77" y="204.06" width="15.51" height="11.36" fill="#d2dde9"/>
<rect x="166.27" y="204.06" width="15.51" height="11.36" fill="#f1d7cb"/>
<rect x="181.78" y="204.06" width="15.51" height="11.36" fill="#ffcdb8"/>
<rect x="197.29" y="204.06" width="15.51" height="11.36" fill="#ffc7ad"/>
<rect x="26.70" y="215.42" width="15.51" height="11.36" fill="#ffbd9d"/>
<rect x="42.21" y="215.42" width="15.51" height="11.36" fill="#ffcbb4"/>
<rect x="57.72" y="215.42" width="15.51" height="11.36" fill="#c4daf4"/>
<rect x="73.22" y="215.42" width="15.51" height="11.36" fill="#80bbff"/>
<rect x="88.73" y="215.42" width="15.51" height="11.36" fill="#67a8ff"/>
<rect x="104.24" y="215.42" width="15.51" height="11.36" fill="#85beff"/>
<rect x="119.75" y="215.42" width="15.51" height="11.36" fill="#9ecdff"/>
<rect x="135.26" y="215.42" width="15.51" height="11.36" fill="#c0d9f7"/>
<rect x="150.77" y="215.42" width="15.51" height="11.36" fill="#dbdde0"/>
<rect x="166.27" y="215.42" width="15.51" height="11.36" fill="#fbd2c1"/>
<rect x="181.78" y="215.42" width="15.51" height="11.36" fill="#ffc5aa"/>
<rect x="197.29" y="215.42" width="15.51" height="11.36" fill="#ffc0a1"/>
<rect x="26.70" y="226.78" width="15.51" height="11.36" fill="#ffc2a4"/>
<rect x="42.21" y="226.78" width="15.51" height="11.36" fill="#f4d5c8"/>
<rect x="57.72" y="226.78" width="15.51" height="11.36" fill="#b8d7fc"/>
<rect x="73.22" y="226.78" width="15.51" height="11.36" fill="#88c1ff"/>
<rect x="88.73" y="226.78" width="15.51" height="11.36" fill="#80bbff"/>
<rect x="104.24" y="226.78" width="15.51" height="11.36" fill="#96c8ff"/>
<rect x="119.75" y="226.78" width="15.51" height="11.36" fill="#b1d4ff"/>
<rect x="135.26" y="226.78" width="15.51" height="11.36" fill="#c7dbf2"/>
<rect x="150.77" y="226.78" width="15.51" height="11.36" fill="#d5dde6"/>
<rect x="166.27" y="226.78" width="15.51" height="11.36" fill="#f1d7cb"/>
<rect x="181.78" y="226.78" width="15.51" height="11.36" fill="#ffceba"/>
<rect x="197.29" y="226.78" width="15.51" height="11.36" fill="#ffc0a1"/>
<rect x="26.70" y="238.15" width="15.51" height="11.36" fill="#ffbd9d"/>
<rect x="42.21" y="238.15" width="15.51" height="11.36" fill="#f1d7cb"/>
<rect x="57.72" y="238.15" width="15.51" height="11.36" fill="#aad2ff"/>
<rect x="73.22" y="238.15" width="15.51" height="11.36" fill="#7cb9ff"/>
<rect x="88.73" y="238.15" width="15.51" height="11.36" fill="#6babff"/>
<rect x="104.24" y="238.15" width="15.51" height="11.36" fill="#83bdff"/>
<rect x="119.75" y="238.15" width="15.51" height="11.36" fill="#9bcbff"/>
<rect x="135.26" y="238.15" width="15.51" height="11.36" fill="#aad2ff"/>
<rect x="150.77" y="238.15" width="15.51" height="11.36" fill="#c4daf4"/>
<rect x="166.27" y="238.15" width="15.51" height="11.36" fill="#dfdddd"/>
<rect x="181.78" y="238.15" width="15.51" height="11.36" fill="#ffcbb4"/>
<rect x="197.29" y="238.15" width="15.51" height="11.36" fill="#ffb896"/>
<rect x="26.70" y="249.51" width="15.51" height="11.36" fill="#ffcbb4"/>
<rect x="42.21" y="249.51" width="15.51" height="11.36" fill="#dbdde0"/>
<rect x="57.72" y="249.51" width="15.51" height="11.36" fill="#a2ceff"/>
<rect x="73.22" y="249.51" width="15.51" height="11.36" fill="#6eaeff"/>
<rect x="88.73" y="249.51" width="15.51" height="11.36" fill="#7cb9ff"/>
<rect x="104.24" y="249.51" width="15.51" height="11.36" fill="#9ecdff"/>
<rect x="119.75" y="249.51" width="15.51" height="11.36" fill="#aad2ff"/>
<rect x="135.26" y="249.51" width="15.51" height="11.36" fill="#aed3ff"/>
<rect x="150.77" y="249.51" width="15.51" height="11.36" fill="#c0d9f7"/>
<rect x="166.27" y="249.51" width="15.51" height="11.36" fill="#ecd9d1"/>
<rect x="181.78" y="249.51" width="15.51" height="11.36" fill="#ffc5aa"/>
<rect x="197.29" y="249.51" width="15.51" height="11.36" fill="#ffbb9a"/>
<rect x="26.70" y="260.87" width="15.51" height="11.36" fill="#fbd2c1"/>
<rect x="42.21" y="260.87" width="15.51" height="11.36" fill="#dfdddd"/>
<rect x="57.72" y="260.87" width="15.51" height="11.36" fill="#a2ceff"/>
<rect x="73.22" y="260.87" width="15.51" height="11.36" fill="#79b6ff"/>
<rect x="88.73" y="260.87" width="15.51" height="11.36" fill="#76b4ff"/>
<rect x="104.24" y="260.87" width="15.51" height="11.36" fill="#88c1ff"/>
<rect x="119.75" y="260.87" width="15.51" height="11.36" fill="#8fc5ff"/>
<rect x="135.26" y="260.87" width="15.51" height="11.36" fill="#a5d0ff"/>
<rect x="150.77" y="260.87" width="15.51" height="11.36" fill="#cfdceb"/>
<rect x="166.27" y="260.87" width="15.51" height="11.36" fill="#f4d5c8"/>
<rect x="181.78" y="260.87" width="15.51" height="11.36" fill="#ffc3a6"/>
<rect x="197.29" y="260.87" width="15.51" height="11.36" fill="#ffc7ad"/>
<rect x="26.70" y="272.23" width="15.51" height="11.36" fill="#e1dddb"/>
<rect x="42.21" y="272.23" width="15.51" height="11.36" fill="#c0d9f7"/>
<rect x="57.72" y="272.23" width="15.51" height="11.36" fill="#8fc5ff"/>
<rect x="73.22" y="272.23" width="15.51" height="11.36" fill="#76b4ff"/>
<rect x="88.73" y="272.23" width="15.51" height="11.36" fill="#71b0ff"/>
<rect x="104.24" y="272.23" width="15.51" height="11.36" fill="#6babff"/>
<rect x="119.75" y="272.23" width="15.51" height="11.36" fill="#79b6ff"/>
<rect x="135.26" y="272.23" width="15.51" height="11.36" fill="#97c9ff"/>
<rect x="150.77" y="272.23" width="15.51" height="11.36" fill="#bbd8fa"/>
<rect x="166.27" y="272.23" width="15.51" height="11.36" fill="#dbdde0"/>
<rect x="181.78" y="272.23" width="15.51" height="11.36" fill="#ecd9d1"/>
<rect x="197.29" y="272.23" width="15.51" height="11.36" fill="#ecd9d1"/>
<rect x="26.70" y="283.59" width="15.51" height="11.36" fill="#dfdddd"/>
<rect x="42.21" y="283.59" width="15.51" height="11.36" fill="#c7dbf2"/>
<rect x="57.72" y="283.59" width="15.51" height="11.36" fill="#96c8ff"/>
<rect x="73.22" y="283.59" width="15.51" height="11.36" fill="#76b4ff"/>
<rect x="88.73" y="283.59" width="15.51" height="11.36" fill="#5495ff"/>
<rect x="104.24" y="283.59" width="15.51" height="11.36" fill="#67a8ff"/>
<rect x="119.75" y="283.59" width="15.51" height="11.36" fill="#83bdff"/>
<rect x="135.26" y="283.59" width="15.51" height="11.36" fill="#9ecdff"/>
<rect x="150.77" y="283.59" width="15.51" height="11.36" fill="#c7dbf2"/>
<rect x="166.27" y="283.59" width="15.51" height="11.36" fill="#dbdde0"/>
<rect x="181.78" y="283.59" width="15.51" height="11.36" fill="#efd7cd"/>
<rect x="197.29" y="283.59" width="15.51" height="11.36" fill="#ecd9d1"/>
<rect x="26.70" y="294.95" width="15.51" height="11.36" fill="#d2dde9"/>
<rect x="42.21" y="294.95" width="15.51" height="11.36" fill="#c0d9f7"/>
<rect x="57.72" y="294.95" width="15.51" height="11.36" fill="#9bcbff"/>
<rect x="73.22" y="294.95" width="15.51" height="11.36" fill="#5a9bff"/>
<rect x="88.73" y="294.95" width="15.51" height="11.36" fill="#5495ff"/>
<rect x="104.24" y="294.95" width="15.51" height="11.36" fill="#63a4ff"/>
<rect x="119.75" y="294.95" width="15.51" height="11.36" fill="#74b3ff"/>
<rect x="135.26" y="294.95" width="15.51" height="11.36" fill="#96c8ff"/>
<rect x="150.77" y="294.95" width="15.51" height="11.36" fill="#aed3ff"/>
<rect x="166.27" y="294.95" width="15.51" height="11.36" fill="#c4daf4"/>
<rect x="181.78" y="294.95" width="15.51" height="11.36" fill="#d2dde9"/>
<rect x="197.29" y="294.95" width="15.51" height="11.36" fill="#d5dde6"/>
<rect x="26.70" y="306.32" width="15.51" height="11.36" fill="#c7dbf2"/>
<rect x="42.21" y="306.32" width="15.51" height="11.36" fill="#b1d4ff"/>
<rect x="57.72" y="306.32" width="15.51" height="11.36" fill="#71b0ff"/>
<rect x="73.22" y="306.32" width="15.51" height="11.36" fill="#4b8aff"/>
<rect x="88.73" y="306.32" width="15.51" height="11.36" fill="#5091ff"/>
<rect x="104.24" y="306.32" width="15.51" height="11.36" fill="#60a1ff"/>
<rect x="119.75" y="306.32" width="15.51" height="11.36" fill="#6eaeff"/>
<rect x="135.26" y="306.32" width="15.51" height="11.36" fill="#83bdff"/>
<rect x="150.77" y="306.32" width="15.51" height="11.36" fill="#97c9ff"/>
<rect x="166.27" y="306.32" width="15.51" height="11.36" fill="#a9d1ff"/>
<rect x="181.78" y="306.32" width="15.51" height="11.36" fill="#bdd8f9"/>
<rect x="197.29" y="306.32" width="15.51" height="11.36" fill="#c7dbf2"/>
<rect x="26.70" y="317.68" width="15.51" height="11.36" fill="#83bdff"/>
<rect x="42.21" y="317.68" width="15.51" height="11.36" fill="#60a1ff"/>
<rect x="57.72" y="317.68" width="15.51" height="11.36" fill="#427fff"/>
<rect x="73.22" y="317.68" width="15.51" height="11.36" fill="#4987ff"/>
<rect x="88.73" y="317.68" width="15.51" height="11.36" fill="#5495ff"/>
<rect x="104.24" y="317.68" width="15.51" height="11.36" fill="#5798ff"/>
<rect x="119.75" y="317.68" width="15.51" height="11.36" fill="#5d9eff"/>
<rect x="135.26" y="317.68" width="15.51" height="11.36" fill="#60a1ff"/>
<rect x="150.77" y="317.68" width="15.51" height="11.36" fill="#64a6ff"/>
<rect x="166.27" y="317.68" width="15.51" height="11.36" fill="#6eaeff"/>
<rect x="181.78" y="317.68" width="15.51" height="11.36" fill="#85beff"/>
<rect x="197.29" y="317.68" width="15.51" height="11.36" fill="#88c1ff"/>
<rect x="26.70" y="329.04" width="15.51" height="11.36" fill="#5798ff"/>
<rect x="42.21" y="329.04" width="15.51" height="11.36" fill="#4684ff"/>
<rect x="57.72" y="329.04" width="15.51" height="11.36" fill="#3a71f9"/>
<rect x="73.22" y="329.04" width="15.51" height="11.36" fill="#3a71f9"/>
<rect x="88.73" y="329.04" width="15.51" height="11.36" fill="#427fff"/>
<rect x="104.24" y="329.04" width="15.51" height="11.36" fill="#407bff"/>
<rect x="119.75" y="329.04" width="15.51" height="11.36" fill="#4987ff"/>
<rect x="135.26" y="329.04" width="15.51" height="11.36" fill="#4987ff"/>
<rect x="150.77" y="329.04" width="15.51" height="11.36" fill="#5394ff"/>
<rect x="166.27" y="329.04" width="15.51" height="11.36" fill="#5495ff"/>
<rect x="181.78" y="329.04" width="15.51" height="11.36" fill="#5d9eff"/>
<rect x="197.29" y="329.04" width="15.51" height="11.36" fill="#60a1ff"/>
</g>
<g font-size="6.45" text-anchor="middle" stroke-width="0.15">
<text x="34.45" y="200.67" class="d">0.85</text>
<text x="49.96" y="200.67" class="d">0.76</text>
<text x="65.47" y="200.67" class="d">0.59</text>
<text x="80.98" y="200.67" class="d">0.46</text>
<text x="96.49" y="200.67" class="d">0.41</text>
<text x="112.00" y="200.67" class="d">0.43</text>
<text x="127.50" y="200.67" class="d">0.46</text>
<text x="143.01" y="200.67" class="d">0.52</text>
<text x="158.52" y="200.67" class="d">0.63</text>
<text x="174.03" y="200.67" class="d">0.73</text>
<text x="189.54" y="200.67" class="d">0.81</text>
<text x="205.05" y="200.67" class="d">0.84</text>
<text x="34.45" y="212.03" class="d">0.81</text>
<text x="49.96" y="212.03" class="d">0.73</text>
<text x="65.47" y="212.03" class="d">0.58</text>
<text x="80.98" y="212.03" class="d">0.43</text>
<text x="96.49" y="212.03" class="d">0.38</text>
<text x="112.00" y="212.03" class="d">0.41</text>
<text x="127.50" y="212.03" class="d">0.47</text>
<text x="143.01" y="212.03" class="d">0.53</text>
<text x="158.52" y="212.03" class="d">0.66</text>
<text x="174.03" y="212.03" class="d">0.76</text>
<text x="189.54" y="212.03" class="d">0.82</text>
<text x="205.05" y="212.03" class="d">0.85</text>
<text x="34.45" y="223.39" class="d">0.90</text>
<text x="49.96" y="223.39" class="d">0.83</text>
<text x="65.47" y="223.39" class="d">0.61</text>
<text x="80.98" y="223.39" class="d">0.39</text>
<text x="96.49" y="223.39" class="w">0.31</text>
<text x="112.00" y="223.39" class="d">0.41</text>
<text x="127.50" y="223.39" class="d">0.49</text>
<text x="143.01" y="223.39" class="d">0.60</text>
<text x="158.52" y="223.39" class="d">0.69</text>
<text x="174.03" y="223.39" class="d">0.79</text>
<text x="189.54" y="223.39" class="d">0.86</text>
<text x="205.05" y="223.39" class="d">0.89</text>
<text x="34.45" y="234.76" class="d">0.88</text>
<text x="49.96" y="234.76" class="d">0.77</text>
<text x="65.47" y="234.76" class="d">0.57</text>
<text x="80.98" y="234.76" class="d">0.42</text>
<text x="96.49" y="234.76" class="d">0.39</text>
<text x="112.00" y="234.76" class="d">0.46</text>
<text x="127.50" y="234.76" class="d">0.55</text>
<text x="143.01" y="234.76" class="d">0.62</text>
<text x="158.52" y="234.76" class="d">0.67</text>
<text x="174.03" y="234.76" class="d">0.76</text>
<text x="189.54" y="234.76" class="d">0.81</text>
<text x="205.05" y="234.76" class="d">0.89</text>
<text x="34.45" y="246.12" class="d">0.90</text>
<text x="49.96" y="246.12" class="d">0.76</text>
<text x="65.47" y="246.12" class="d">0.53</text>
<text x="80.98" y="246.12" class="d">0.38</text>
<text x="96.49" y="246.12" class="w">0.32</text>
<text x="112.00" y="246.12" class="d">0.40</text>
<text x="127.50" y="246.12" class="d">0.48</text>
<text x="143.01" y="246.12" class="d">0.53</text>
<text x="158.52" y="246.12" class="d">0.61</text>
<text x="174.03" y="246.12" class="d">0.70</text>
<text x="189.54" y="246.12" class="d">0.83</text>
<text x="205.05" y="246.12" class="d">0.92</text>
<text x="34.45" y="257.48" class="d">0.83</text>
<text x="49.96" y="257.48" class="d">0.69</text>
<text x="65.47" y="257.48" class="d">0.50</text>
<text x="80.98" y="257.48" class="d">0.33</text>
<text x="96.49" y="257.48" class="d">0.38</text>
<text x="112.00" y="257.48" class="d">0.49</text>
<text x="127.50" y="257.48" class="d">0.53</text>
<text x="143.01" y="257.48" class="d">0.54</text>
<text x="158.52" y="257.48" class="d">0.60</text>
<text x="174.03" y="257.48" class="d">0.74</text>
<text x="189.54" y="257.48" class="d">0.86</text>
<text x="205.05" y="257.48" class="d">0.91</text>
<text x="34.45" y="268.84" class="d">0.79</text>
<text x="49.96" y="268.84" class="d">0.70</text>
<text x="65.47" y="268.84" class="d">0.50</text>
<text x="80.98" y="268.84" class="d">0.37</text>
<text x="96.49" y="268.84" class="d">0.36</text>
<text x="112.00" y="268.84" class="d">0.42</text>
<text x="127.50" y="268.84" class="d">0.44</text>
<text x="143.01" y="268.84" class="d">0.51</text>
<text x="158.52" y="268.84" class="d">0.65</text>
<text x="174.03" y="268.84" class="d">0.77</text>
<text x="189.54" y="268.84" class="d">0.87</text>
<text x="205.05" y="268.84" class="d">0.85</text>
<text x="34.45" y="280.20" class="d">0.71</text>
<text x="49.96" y="280.20" class="d">0.60</text>
<text x="65.47" y="280.20" class="d">0.44</text>
<text x="80.98" y="280.20" class="d">0.36</text>
<text x="96.49" y="280.20" class="d">0.34</text>
<text x="112.00" y="280.20" class="w">0.32</text>
<text x="127.50" y="280.20" class="d">0.37</text>
<text x="143.01" y="280.20" class="d">0.47</text>
<text x="158.52" y="280.20" class="d">0.58</text>
<text x="174.03" y="280.20" class="d">0.69</text>
<text x="189.54" y="280.20" class="d">0.74</text>
<text x="205.05" y="280.20" class="d">0.74</text>
<text x="34.45" y="291.56" class="d">0.70</text>
<text x="49.96" y="291.56" class="d">0.62</text>
<text x="65.47" y="291.56" class="d">0.46</text>
<text x="80.98" y="291.56" class="d">0.36</text>
<text x="96.49" y="291.56" class="w">0.24</text>
<text x="112.00" y="291.56" class="w">0.31</text>
<text x="127.50" y="291.56" class="d">0.40</text>
<text x="143.01" y="291.56" class="d">0.49</text>
<text x="158.52" y="291.56" class="d">0.62</text>
<text x="174.03" y="291.56" class="d">0.69</text>
<text x="189.54" y="291.56" class="d">0.75</text>
<text x="205.05" y="291.56" class="d">0.74</text>
<text x="34.45" y="302.92" class="d">0.66</text>
<text x="49.96" y="302.92" class="d">0.60</text>
<text x="65.47" y="302.92" class="d">0.48</text>
<text x="80.98" y="302.92" class="w">0.26</text>
<text x="96.49" y="302.92" class="w">0.24</text>
<text x="112.00" y="302.92" class="w">0.29</text>
<text x="127.50" y="302.92" class="d">0.35</text>
<text x="143.01" y="302.92" class="d">0.46</text>
<text x="158.52" y="302.92" class="d">0.54</text>
<text x="174.03" y="302.92" class="d">0.61</text>
<text x="189.54" y="302.92" class="d">0.66</text>
<text x="205.05" y="302.92" class="d">0.67</text>
<text x="34.45" y="314.29" class="d">0.62</text>
<text x="49.96" y="314.29" class="d">0.55</text>
<text x="65.47" y="314.29" class="d">0.34</text>
<text x="80.98" y="314.29" class="w">0.20</text>
<text x="96.49" y="314.29" class="w">0.22</text>
<text x="112.00" y="314.29" class="w">0.28</text>
<text x="127.50" y="314.29" class="d">0.33</text>
<text x="143.01" y="314.29" class="d">0.40</text>
<text x="158.52" y="314.29" class="d">0.47</text>
<text x="174.03" y="314.29" class="d">0.52</text>
<text x="189.54" y="314.29" class="d">0.59</text>
<text x="205.05" y="314.29" class="d">0.62</text>
<text x="34.45" y="325.65" class="d">0.40</text>
<text x="49.96" y="325.65" class="w">0.28</text>
<text x="65.47" y="325.65" class="w">0.16</text>
<text x="80.98" y="325.65" class="w">0.19</text>
<text x="96.49" y="325.65" class="w">0.24</text>
<text x="112.00" y="325.65" class="w">0.25</text>
<text x="127.50" y="325.65" class="w">0.27</text>
<text x="143.01" y="325.65" class="w">0.28</text>
<text x="158.52" y="325.65" class="w">0.30</text>
<text x="174.03" y="325.65" class="d">0.33</text>
<text x="189.54" y="325.65" class="d">0.41</text>
<text x="205.05" y="325.65" class="d">0.42</text>
<text x="34.45" y="337.01" class="w">0.25</text>
<text x="49.96" y="337.01" class="w">0.18</text>
<text x="65.47" y="337.01" class="w">0.12</text>
<text x="80.98" y="337.01" class="w">0.12</text>
<text x="96.49" y="337.01" class="w">0.16</text>
<text x="112.00" y="337.01" class="w">0.15</text>
<text x="127.50" y="337.01" class="w">0.19</text>
<text x="143.01" y="337.01" class="w">0.19</text>
<text x="158.52" y="337.01" class="w">0.23</text>
<text x="174.03" y="337.01" class="w">0.24</text>
<text x="189.54" y="337.01" class="w">0.27</text>
<text x="205.05" y="337.01" class="w">0.28</text>
</g>
<g font-size="7.0" text-anchor="end" fill="#111">
<line x1="24.5" x2="26.7" y1="198.38" y2="198.38" stroke="#666" stroke-width="0.45"/>
<text x="22.7" y="200.87">13</text>
<line x1="24.5" x2="26.7" y1="209.74" y2="209.74" stroke="#666" stroke-width="0.45"/>
<text x="22.7" y="212.23">12</text>
<line x1="24.5" x2="26.7" y1="221.10" y2="221.10" stroke="#666" stroke-width="0.45"/>
<text x="22.7" y="223.59">11</text>
<line x1="24.5" x2="26.7" y1="232.47" y2="232.47" stroke="#666" stroke-width="0.45"/>
<text x="22.7" y="234.95">10</text>
<line x1="24.5" x2="26.7" y1="243.83" y2="243.83" stroke="#666" stroke-width="0.45"/>
<text x="22.7" y="246.31">9</text>
<line x1="24.5" x2="26.7" y1="255.19" y2="255.19" stroke="#666" stroke-width="0.45"/>
<text x="22.7" y="257.67">8</text>
<line x1="24.5" x2="26.7" y1="266.55" y2="266.55" stroke="#666" stroke-width="0.45"/>
<text x="22.7" y="269.03">7</text>
<line x1="24.5" x2="26.7" y1="277.91" y2="277.91" stroke="#666" stroke-width="0.45"/>
<text x="22.7" y="280.40">6</text>
<line x1="24.5" x2="26.7" y1="289.27" y2="289.27" stroke="#666" stroke-width="0.45"/>
<text x="22.7" y="291.76">5</text>
<line x1="24.5" x2="26.7" y1="300.63" y2="300.63" stroke="#666" stroke-width="0.45"/>
<text x="22.7" y="303.12">4</text>
<line x1="24.5" x2="26.7" y1="312.00" y2="312.00" stroke="#666" stroke-width="0.45"/>
<text x="22.7" y="314.48">3</text>
<line x1="24.5" x2="26.7" y1="323.36" y2="323.36" stroke="#666" stroke-width="0.45"/>
<text x="22.7" y="325.84">2</text>
<line x1="24.5" x2="26.7" y1="334.72" y2="334.72" stroke="#666" stroke-width="0.45"/>
<text x="22.7" y="337.20">1</text>
</g>
<g font-size="7.0" text-anchor="middle" fill="#111">
<line x1="34.45" x2="34.45" y1="340.4" y2="342.6" stroke="#666" stroke-width="0.45"/>
<text transform="translate(33.65,349.70) rotate(-28)" y="2.48">DJF</text>
<line x1="49.96" x2="49.96" y1="340.4" y2="342.6" stroke="#666" stroke-width="0.45"/>
<text transform="translate(49.16,349.70) rotate(-28)" y="2.48">JFM</text>
<line x1="65.47" x2="65.47" y1="340.4" y2="342.6" stroke="#666" stroke-width="0.45"/>
<text transform="translate(64.67,349.70) rotate(-28)" y="2.48">FMA</text>
<line x1="80.98" x2="80.98" y1="340.4" y2="342.6" stroke="#666" stroke-width="0.45"/>
<text transform="translate(80.18,349.70) rotate(-28)" y="2.48">MAM</text>
<line x1="96.49" x2="96.49" y1="340.4" y2="342.6" stroke="#666" stroke-width="0.45"/>
<text transform="translate(95.69,349.70) rotate(-28)" y="2.48">AMJ</text>
<line x1="112.00" x2="112.00" y1="340.4" y2="342.6" stroke="#666" stroke-width="0.45"/>
<text transform="translate(111.20,349.70) rotate(-28)" y="2.48">MJJ</text>
<line x1="127.50" x2="127.50" y1="340.4" y2="342.6" stroke="#666" stroke-width="0.45"/>
<text transform="translate(126.70,349.70) rotate(-28)" y="2.48">JJA</text>
<line x1="143.01" x2="143.01" y1="340.4" y2="342.6" stroke="#666" stroke-width="0.45"/>
<text transform="translate(142.21,349.70) rotate(-28)" y="2.48">JAS</text>
<line x1="158.52" x2="158.52" y1="340.4" y2="342.6" stroke="#666" stroke-width="0.45"/>
<text transform="translate(157.72,349.70) rotate(-28)" y="2.48">ASO</text>
<line x1="174.03" x2="174.03" y1="340.4" y2="342.6" stroke="#666" stroke-width="0.45"/>
<text transform="translate(173.23,349.70) rotate(-28)" y="2.48">SON</text>
<line x1="189.54" x2="189.54" y1="340.4" y2="342.6" stroke="#666" stroke-width="0.45"/>
<text transform="translate(188.74,349.70) rotate(-28)" y="2.48">OND</text>
<line x1="205.05" x2="205.05" y1="340.4" y2="342.6" stroke="#666" stroke-width="0.45"/>
<text transform="translate(204.25,349.70) rotate(-28)" y="2.48">NDJ</text>
</g>
<rect x="224.2" y="192.7" width="8.1" height="147.7" fill="url(#cw)"/>
<g font-size="7.3" fill="#111">
<text x="234.1" y="343.49">0.0</text>
<text x="234.1" y="322.39">0.2</text>
<text x="234.1" y="301.29">0.4</text>
<text x="234.1" y="280.19">0.6</text>
<text x="234.1" y="259.09">0.8</text>
<text x="234.1" y="237.99">1.0</text>
<text x="234.1" y="216.89">1.2</text>
<text x="234.1" y="195.79">1.4</text>
</g>
<text x="245.1" y="272.1" font-size="7.2" fill="#111"><tspan font-size="4.6" dy="-2.6">°</tspan><tspan dy="2.6" dx="0.6">C</tspan></text>
<text transform="translate(11.0,266.5) rotate(-90)" text-anchor="middle" font-size="7.4" fill="#111">Lead Month</text>
</g>
<g id="panel-d" class="t">
<text x="271.0" y="190.7" font-size="7.55" fill="#111">(d)ACC: FIO-CPS-HY</text>
<g stroke="#fff" stroke-width="0.25">
<rect x="271.00" y="192.70" width="15.51" height="11.36" fill="#ffa983"/>
<rect x="286.51" y="192.70" width="15.51" height="11.36" fill="#ffa680"/>
<rect x="302.02" y="192.70" width="15.51" height="11.36" fill="#ffa079"/>
<rect x="317.52" y="192.70" width="15.51" height="11.36" fill="#ffac87"/>
<rect x="333.03" y="192.70" width="15.51" height="11.36" fill="#ffb896"/>
<rect x="348.54" y="192.70" width="15.51" height="11.36" fill="#ffc7ad"/>
<rect x="364.05" y="192.70" width="15.51" height="11.36" fill="#ffb693"/>
<rect x="379.56" y="192.70" width="15.51" height="11.36" fill="#ffb38f"/>
<rect x="395.07" y="192.70" width="15.51" height="11.36" fill="#ffac87"/>
<rect x="410.57" y="192.70" width="15.51" height="11.36" fill="#ff956d"/>
<rect x="426.08" y="192.70" width="15.51" height="11.36" fill="#ff956d"/>
<rect x="441.59" y="192.70" width="15.51" height="11.36" fill="#ff9a72"/>
<rect x="271.00" y="204.06" width="15.51" height="11.36" fill="#ff9d76"/>
<rect x="286.51" y="204.06" width="15.51" height="11.36" fill="#ffa079"/>
<rect x="302.02" y="204.06" width="15.51" height="11.36" fill="#ff956d"/>
<rect x="317.52" y="204.06" width="15.51" height="11.36" fill="#ff956d"/>
<rect x="333.03" y="204.06" width="15.51" height="11.36" fill="#ffa37c"/>
<rect x="348.54" y="204.06" width="15.51" height="11.36" fill="#ffb896"/>
<rect x="364.05" y="204.06" width="15.51" height="11.36" fill="#ffbd9d"/>
<rect x="379.56" y="204.06" width="15.51" height="11.36" fill="#ffbd9d"/>
<rect x="395.07" y="204.06" width="15.51" height="11.36" fill="#ffc5aa"/>
<rect x="410.57" y="204.06" width="15.51" height="11.36" fill="#ffb693"/>
<rect x="426.08" y="204.06" width="15.51" height="11.36" fill="#ffa680"/>
<rect x="441.59" y="204.06" width="15.51" height="11.36" fill="#ff916a"/>
<rect x="271.00" y="215.42" width="15.51" height="11.36" fill="#ffc0a1"/>
<rect x="286.51" y="215.42" width="15.51" height="11.36" fill="#ffc7ad"/>
<rect x="302.02" y="215.42" width="15.51" height="11.36" fill="#ffa37c"/>
<rect x="317.52" y="215.42" width="15.51" height="11.36" fill="#ff7f5a"/>
<rect x="333.03" y="215.42" width="15.51" height="11.36" fill="#ff7b56"/>
<rect x="348.54" y="215.42" width="15.51" height="11.36" fill="#ffc0a1"/>
<rect x="364.05" y="215.42" width="15.51" height="11.36" fill="#ffcdb8"/>
<rect x="379.56" y="215.42" width="15.51" height="11.36" fill="#dfdddd"/>
<rect x="395.07" y="215.42" width="15.51" height="11.36" fill="#fcd1bf"/>
<rect x="410.57" y="215.42" width="15.51" height="11.36" fill="#ffc0a1"/>
<rect x="426.08" y="215.42" width="15.51" height="11.36" fill="#ff9d76"/>
<rect x="441.59" y="215.42" width="15.51" height="11.36" fill="#ff9a72"/>
<rect x="271.00" y="226.78" width="15.51" height="11.36" fill="#ffb896"/>
<rect x="286.51" y="226.78" width="15.51" height="11.36" fill="#ffac87"/>
<rect x="302.02" y="226.78" width="15.51" height="11.36" fill="#ff8e67"/>
<rect x="317.52" y="226.78" width="15.51" height="11.36" fill="#ff8e67"/>
<rect x="333.03" y="226.78" width="15.51" height="11.36" fill="#ffa680"/>
<rect x="348.54" y="226.78" width="15.51" height="11.36" fill="#f1d7cb"/>
<rect x="364.05" y="226.78" width="15.51" height="11.36" fill="#cddced"/>
<rect x="379.56" y="226.78" width="15.51" height="11.36" fill="#d4dde7"/>
<rect x="395.07" y="226.78" width="15.51" height="11.36" fill="#ffc7ad"/>
<rect x="410.57" y="226.78" width="15.51" height="11.36" fill="#ffa983"/>
<rect x="426.08" y="226.78" width="15.51" height="11.36" fill="#ff8e67"/>
<rect x="441.59" y="226.78" width="15.51" height="11.36" fill="#ffac87"/>
<rect x="271.00" y="238.15" width="15.51" height="11.36" fill="#ffbb9a"/>
<rect x="286.51" y="238.15" width="15.51" height="11.36" fill="#ffa680"/>
<rect x="302.02" y="238.15" width="15.51" height="11.36" fill="#ff7b56"/>
<rect x="317.52" y="238.15" width="15.51" height="11.36" fill="#ff7b56"/>
<rect x="333.03" y="238.15" width="15.51" height="11.36" fill="#ff7b56"/>
<rect x="348.54" y="238.15" width="15.51" height="11.36" fill="#ffb896"/>
<rect x="364.05" y="238.15" width="15.51" height="11.36" fill="#ffc2a4"/>
<rect x="379.56" y="238.15" width="15.51" height="11.36" fill="#ffb693"/>
<rect x="395.07" y="238.15" width="15.51" height="11.36" fill="#ff9a72"/>
<rect x="410.57" y="238.15" width="15.51" height="11.36" fill="#ff7b56"/>
<rect x="426.08" y="238.15" width="15.51" height="11.36" fill="#ff9a72"/>
<rect x="441.59" y="238.15" width="15.51" height="11.36" fill="#ffb38f"/>
<rect x="271.00" y="249.51" width="15.51" height="11.36" fill="#ffa079"/>
<rect x="286.51" y="249.51" width="15.51" height="11.36" fill="#ff8660"/>
<rect x="302.02" y="249.51" width="15.51" height="11.36" fill="#ff6d4c"/>
<rect x="317.52" y="249.51" width="15.51" height="11.36" fill="#ff5c40"/>
<rect x="333.03" y="249.51" width="15.51" height="11.36" fill="#ffa079"/>
<rect x="348.54" y="249.51" width="15.51" height="11.36" fill="#e6dbd6"/>
<rect x="364.05" y="249.51" width="15.51" height="11.36" fill="#eed8cf"/>
<rect x="379.56" y="249.51" width="15.51" height="11.36" fill="#ffc0a1"/>
<rect x="395.07" y="249.51" width="15.51" height="11.36" fill="#ff916a"/>
<rect x="410.57" y="249.51" width="15.51" height="11.36" fill="#ffa079"/>
<rect x="426.08" y="249.51" width="15.51" height="11.36" fill="#ffac87"/>
<rect x="441.59" y="249.51" width="15.51" height="11.36" fill="#ffb08c"/>
<rect x="271.00" y="260.87" width="15.51" height="11.36" fill="#ff835d"/>
<rect x="286.51" y="260.87" width="15.51" height="11.36" fill="#ff7552"/>
<rect x="302.02" y="260.87" width="15.51" height="11.36" fill="#ff6043"/>
<rect x="317.52" y="260.87" width="15.51" height="11.36" fill="#ff6546"/>
<rect x="333.03" y="260.87" width="15.51" height="11.36" fill="#ff956d"/>
<rect x="348.54" y="260.87" width="15.51" height="11.36" fill="#ffc7ad"/>
<rect x="364.05" y="260.87" width="15.51" height="11.36" fill="#ffbb9a"/>
<rect x="379.56" y="260.87" width="15.51" height="11.36" fill="#ffa680"/>
<rect x="395.07" y="260.87" width="15.51" height="11.36" fill="#ffb08c"/>
<rect x="410.57" y="260.87" width="15.51" height="11.36" fill="#ffa37c"/>
<rect x="426.08" y="260.87" width="15.51" height="11.36" fill="#ffa983"/>
<rect x="441.59" y="260.87" width="15.51" height="11.36" fill="#ff8a63"/>
<rect x="271.00" y="272.23" width="15.51" height="11.36" fill="#ff6d4c"/>
<rect x="286.51" y="272.23" width="15.51" height="11.36" fill="#ff6043"/>
<rect x="302.02" y="272.23" width="15.51" height="11.36" fill="#ff5139"/>
<rect x="317.52" y="272.23" width="15.51" height="11.36" fill="#ff6d4c"/>
<rect x="333.03" y="272.23" width="15.51" height="11.36" fill="#ff8e67"/>
<rect x="348.54" y="272.23" width="15.51" height="11.36" fill="#ff956d"/>
<rect x="364.05" y="272.23" width="15.51" height="11.36" fill="#ff8660"/>
<rect x="379.56" y="272.23" width="15.51" height="11.36" fill="#ff9a72"/>
<rect x="395.07" y="272.23" width="15.51" height="11.36" fill="#ff8e67"/>
<rect x="410.57" y="272.23" width="15.51" height="11.36" fill="#ff8660"/>
<rect x="426.08" y="272.23" width="15.51" height="11.36" fill="#ff7b56"/>
<rect x="441.59" y="272.23" width="15.51" height="11.36" fill="#ff6949"/>
<rect x="271.00" y="283.59" width="15.51" height="11.36" fill="#ff5c40"/>
<rect x="286.51" y="283.59" width="15.51" height="11.36" fill="#ff563c"/>
<rect x="302.02" y="283.59" width="15.51" height="11.36" fill="#ff4834"/>
<rect x="317.52" y="283.59" width="15.51" height="11.36" fill="#ff5c40"/>
<rect x="333.03" y="283.59" width="15.51" height="11.36" fill="#ff5c40"/>
<rect x="348.54" y="283.59" width="15.51" height="11.36" fill="#ff8660"/>
<rect x="364.05" y="283.59" width="15.51" height="11.36" fill="#ff916a"/>
<rect x="379.56" y="283.59" width="15.51" height="11.36" fill="#ff8e67"/>
<rect x="395.07" y="283.59" width="15.51" height="11.36" fill="#ff956d"/>
<rect x="410.57" y="283.59" width="15.51" height="11.36" fill="#ff714f"/>
<rect x="426.08" y="283.59" width="15.51" height="11.36" fill="#ff6d4c"/>
<rect x="441.59" y="283.59" width="15.51" height="11.36" fill="#ff5c40"/>
<rect x="271.00" y="294.95" width="15.51" height="11.36" fill="#ff563c"/>
<rect x="286.51" y="294.95" width="15.51" height="11.36" fill="#ff6043"/>
<rect x="302.02" y="294.95" width="15.51" height="11.36" fill="#ff5c40"/>
<rect x="317.52" y="294.95" width="15.51" height="11.36" fill="#ff3e2f"/>
<rect x="333.03" y="294.95" width="15.51" height="11.36" fill="#ff563c"/>
<rect x="348.54" y="294.95" width="15.51" height="11.36" fill="#ff7b56"/>
<rect x="364.05" y="294.95" width="15.51" height="11.36" fill="#ff714f"/>
<rect x="379.56" y="294.95" width="15.51" height="11.36" fill="#ff8660"/>
<rect x="395.07" y="294.95" width="15.51" height="11.36" fill="#ff714f"/>
<rect x="410.57" y="294.95" width="15.51" height="11.36" fill="#ff563c"/>
<rect x="426.08" y="294.95" width="15.51" height="11.36" fill="#ff4c37"/>
<rect x="441.59" y="294.95" width="15.51" height="11.36" fill="#ff4834"/>
<rect x="271.00" y="306.32" width="15.51" height="11.36" fill="#ff4c37"/>
<rect x="286.51" y="306.32" width="15.51" height="11.36" fill="#ff5139"/>
<rect x="302.02" y="306.32" width="15.51" height="11.36" fill="#ff332b"/>
<rect x="317.52" y="306.32" width="15.51" height="11.36" fill="#ff2526"/>
<rect x="333.03" y="306.32" width="15.51" height="11.36" fill="#ff5139"/>
<rect x="348.54" y="306.32" width="15.51" height="11.36" fill="#ff714f"/>
<rect x="364.05" y="306.32" width="15.51" height="11.36" fill="#ff6949"/>
<rect x="379.56" y="306.32" width="15.51" height="11.36" fill="#ff563c"/>
<rect x="395.07" y="306.32" width="15.51" height="11.36" fill="#ff4834"/>
<rect x="410.57" y="306.32" width="15.51" height="11.36" fill="#ff392d"/>
<rect x="426.08" y="306.32" width="15.51" height="11.36" fill="#ff3e2f"/>
<rect x="441.59" y="306.32" width="15.51" height="11.36" fill="#ff392d"/>
<rect x="271.00" y="317.68" width="15.51" height="11.36" fill="#ff2526"/>
<rect x="286.51" y="317.68" width="15.51" height="11.36" fill="#fa1822"/>
<rect x="302.02" y="317.68" width="15.51" height="11.36" fill="#f5021f"/>
<rect x="317.52" y="317.68" width="15.51" height="11.36" fill="#fc1e24"/>
<rect x="333.03" y="317.68" width="15.51" height="11.36" fill="#ff4834"/>
<rect x="348.54" y="317.68" width="15.51" height="11.36" fill="#ff6043"/>
<rect x="364.05" y="317.68" width="15.51" height="11.36" fill="#ff4c37"/>
<rect x="379.56" y="317.68" width="15.51" height="11.36" fill="#ff2b28"/>
<rect x="395.07" y="317.68" width="15.51" height="11.36" fill="#fc1e24"/>
<rect x="410.57" y="317.68" width="15.51" height="11.36" fill="#f80d20"/>
<rect x="426.08" y="317.68" width="15.51" height="11.36" fill="#fc1e24"/>
<rect x="441.59" y="317.68" width="15.51" height="11.36" fill="#fc1e24"/>
<rect x="271.00" y="329.04" width="15.51" height="11.36" fill="#f5021f"/>
<rect x="286.51" y="329.04" width="15.51" height="11.36" fill="#f3001e"/>
<rect x="302.02" y="329.04" width="15.51" height="11.36" fill="#f3001e"/>
<rect x="317.52" y="329.04" width="15.51" height="11.36" fill="#f5021f"/>
<rect x="333.03" y="329.04" width="15.51" height="11.36" fill="#ff2b28"/>
<rect x="348.54" y="329.04" width="15.51" height="11.36" fill="#ff2526"/>
<rect x="364.05" y="329.04" width="15.51" height="11.36" fill="#ff2526"/>
<rect x="379.56" y="329.04" width="15.51" height="11.36" fill="#f80d20"/>
<rect x="395.07" y="329.04" width="15.51" height="11.36" fill="#f5021f"/>
<rect x="410.57" y="329.04" width="15.51" height="11.36" fill="#f3001e"/>
<rect x="426.08" y="329.04" width="15.51" height="11.36" fill="#f5021f"/>
<rect x="441.59" y="329.04" width="15.51" height="11.36" fill="#f5021f"/>
</g>
<g font-size="6.45" text-anchor="middle" stroke-width="0.15">
<text x="278.75" y="200.67" class="d">0.64</text>
<text x="294.26" y="200.67" class="d">0.65</text>
<text x="309.77" y="200.67" class="d">0.67</text>
<text x="325.28" y="200.67" class="d">0.63</text>
<text x="340.79" y="200.67" class="d">0.59</text>
<text x="356.30" y="200.67" class="d">0.53</text>
<text x="371.80" y="200.67" class="d">0.60</text>
<text x="387.31" y="200.67" class="d">0.61</text>
<text x="402.82" y="200.67" class="d">0.63</text>
<text x="418.33" y="200.67" class="d">0.70</text>
<text x="433.84" y="200.67" class="d">0.70</text>
<text x="449.35" y="200.67" class="d">0.69</text>
<text x="278.75" y="212.03" class="d">0.68</text>
<text x="294.26" y="212.03" class="d">0.67</text>
<text x="309.77" y="212.03" class="d">0.70</text>
<text x="325.28" y="212.03" class="d">0.70</text>
<text x="340.79" y="212.03" class="d">0.66</text>
<text x="356.30" y="212.03" class="d">0.59</text>
<text x="371.80" y="212.03" class="d">0.57</text>
<text x="387.31" y="212.03" class="d">0.57</text>
<text x="402.82" y="212.03" class="d">0.54</text>
<text x="418.33" y="212.03" class="d">0.60</text>
<text x="433.84" y="212.03" class="d">0.65</text>
<text x="449.35" y="212.03" class="d">0.71</text>
<text x="278.75" y="223.39" class="d">0.56</text>
<text x="294.26" y="223.39" class="d">0.53</text>
<text x="309.77" y="223.39" class="d">0.66</text>
<text x="325.28" y="223.39" class="w">0.76</text>
<text x="340.79" y="223.39" class="w">0.77</text>
<text x="356.30" y="223.39" class="d">0.56</text>
<text x="371.80" y="223.39" class="d">0.50</text>
<text x="387.31" y="223.39" class="d">0.40</text>
<text x="402.82" y="223.39" class="d">0.48</text>
<text x="418.33" y="223.39" class="d">0.56</text>
<text x="433.84" y="223.39" class="d">0.68</text>
<text x="449.35" y="223.39" class="d">0.69</text>
<text x="278.75" y="234.76" class="d">0.59</text>
<text x="294.26" y="234.76" class="d">0.63</text>
<text x="309.77" y="234.76" class="w">0.72</text>
<text x="325.28" y="234.76" class="w">0.72</text>
<text x="340.79" y="234.76" class="d">0.65</text>
<text x="356.30" y="234.76" class="d">0.45</text>
<text x="371.80" y="234.76" class="d">0.35</text>
<text x="387.31" y="234.76" class="d">0.37</text>
<text x="402.82" y="234.76" class="d">0.53</text>
<text x="418.33" y="234.76" class="d">0.64</text>
<text x="433.84" y="234.76" class="w">0.72</text>
<text x="449.35" y="234.76" class="d">0.63</text>
<text x="278.75" y="246.12" class="d">0.58</text>
<text x="294.26" y="246.12" class="d">0.65</text>
<text x="309.77" y="246.12" class="w">0.77</text>
<text x="325.28" y="246.12" class="w">0.77</text>
<text x="340.79" y="246.12" class="w">0.77</text>
<text x="356.30" y="246.12" class="d">0.59</text>
<text x="371.80" y="246.12" class="d">0.55</text>
<text x="387.31" y="246.12" class="d">0.60</text>
<text x="402.82" y="246.12" class="d">0.69</text>
<text x="418.33" y="246.12" class="w">0.77</text>
<text x="433.84" y="246.12" class="d">0.69</text>
<text x="449.35" y="246.12" class="d">0.61</text>
<text x="278.75" y="257.48" class="d">0.67</text>
<text x="294.26" y="257.48" class="w">0.74</text>
<text x="309.77" y="257.48" class="w">0.80</text>
<text x="325.28" y="257.48" class="w">0.84</text>
<text x="340.79" y="257.48" class="d">0.67</text>
<text x="356.30" y="257.48" class="d">0.42</text>
<text x="371.80" y="257.48" class="d">0.44</text>
<text x="387.31" y="257.48" class="d">0.56</text>
<text x="402.82" y="257.48" class="d">0.71</text>
<text x="418.33" y="257.48" class="d">0.67</text>
<text x="433.84" y="257.48" class="d">0.63</text>
<text x="449.35" y="257.48" class="d">0.62</text>
<text x="278.75" y="268.84" class="w">0.75</text>
<text x="294.26" y="268.84" class="w">0.78</text>
<text x="309.77" y="268.84" class="w">0.83</text>
<text x="325.28" y="268.84" class="w">0.82</text>
<text x="340.79" y="268.84" class="d">0.70</text>
<text x="356.30" y="268.84" class="d">0.53</text>
<text x="371.80" y="268.84" class="d">0.58</text>
<text x="387.31" y="268.84" class="d">0.65</text>
<text x="402.82" y="268.84" class="d">0.62</text>
<text x="418.33" y="268.84" class="d">0.66</text>
<text x="433.84" y="268.84" class="d">0.64</text>
<text x="449.35" y="268.84" class="w">0.73</text>
<text x="278.75" y="280.20" class="w">0.80</text>
<text x="294.26" y="280.20" class="w">0.83</text>
<text x="309.77" y="280.20" class="w">0.86</text>
<text x="325.28" y="280.20" class="w">0.80</text>
<text x="340.79" y="280.20" class="d">0.72</text>
<text x="356.30" y="280.20" class="d">0.70</text>
<text x="371.80" y="280.20" class="w">0.74</text>
<text x="387.31" y="280.20" class="d">0.69</text>
<text x="402.82" y="280.20" class="w">0.72</text>
<text x="418.33" y="280.20" class="w">0.74</text>
<text x="433.84" y="280.20" class="w">0.77</text>
<text x="449.35" y="280.20" class="w">0.81</text>
<text x="278.75" y="291.56" class="w">0.84</text>
<text x="294.26" y="291.56" class="w">0.85</text>
<text x="309.77" y="291.56" class="w">0.88</text>
<text x="325.28" y="291.56" class="w">0.84</text>
<text x="340.79" y="291.56" class="w">0.84</text>
<text x="356.30" y="291.56" class="w">0.74</text>
<text x="371.80" y="291.56" class="d">0.71</text>
<text x="387.31" y="291.56" class="w">0.72</text>
<text x="402.82" y="291.56" class="d">0.70</text>
<text x="418.33" y="291.56" class="w">0.79</text>
<text x="433.84" y="291.56" class="w">0.80</text>
<text x="449.35" y="291.56" class="w">0.84</text>
<text x="278.75" y="302.92" class="w">0.85</text>
<text x="294.26" y="302.92" class="w">0.83</text>
<text x="309.77" y="302.92" class="w">0.84</text>
<text x="325.28" y="302.92" class="w">0.90</text>
<text x="340.79" y="302.92" class="w">0.85</text>
<text x="356.30" y="302.92" class="w">0.77</text>
<text x="371.80" y="302.92" class="w">0.79</text>
<text x="387.31" y="302.92" class="w">0.74</text>
<text x="402.82" y="302.92" class="w">0.79</text>
<text x="418.33" y="302.92" class="w">0.85</text>
<text x="433.84" y="302.92" class="w">0.87</text>
<text x="449.35" y="302.92" class="w">0.88</text>
<text x="278.75" y="314.29" class="w">0.87</text>
<text x="294.26" y="314.29" class="w">0.86</text>
<text x="309.77" y="314.29" class="w">0.92</text>
<text x="325.28" y="314.29" class="w">0.94</text>
<text x="340.79" y="314.29" class="w">0.86</text>
<text x="356.30" y="314.29" class="w">0.79</text>
<text x="371.80" y="314.29" class="w">0.81</text>
<text x="387.31" y="314.29" class="w">0.85</text>
<text x="402.82" y="314.29" class="w">0.88</text>
<text x="418.33" y="314.29" class="w">0.91</text>
<text x="433.84" y="314.29" class="w">0.90</text>
<text x="449.35" y="314.29" class="w">0.91</text>
<text x="278.75" y="325.65" class="w">0.94</text>
<text x="294.26" y="325.65" class="w">0.96</text>
<text x="309.77" y="325.65" class="w">0.98</text>
<text x="325.28" y="325.65" class="w">0.95</text>
<text x="340.79" y="325.65" class="w">0.88</text>
<text x="356.30" y="325.65" class="w">0.83</text>
<text x="371.80" y="325.65" class="w">0.87</text>
<text x="387.31" y="325.65" class="w">0.93</text>
<text x="402.82" y="325.65" class="w">0.95</text>
<text x="418.33" y="325.65" class="w">0.97</text>
<text x="433.84" y="325.65" class="w">0.95</text>
<text x="449.35" y="325.65" class="w">0.95</text>
<text x="278.75" y="337.01" class="w">0.98</text>
<text x="294.26" y="337.01" class="w">0.99</text>
<text x="309.77" y="337.01" class="w">0.99</text>
<text x="325.28" y="337.01" class="w">0.98</text>
<text x="340.79" y="337.01" class="w">0.93</text>
<text x="356.30" y="337.01" class="w">0.94</text>
<text x="371.80" y="337.01" class="w">0.94</text>
<text x="387.31" y="337.01" class="w">0.97</text>
<text x="402.82" y="337.01" class="w">0.98</text>
<text x="418.33" y="337.01" class="w">0.99</text>
<text x="433.84" y="337.01" class="w">0.98</text>
<text x="449.35" y="337.01" class="w">0.98</text>
</g>
<g font-size="7.0" text-anchor="end" fill="#111">
<line x1="268.8" x2="271.0" y1="198.38" y2="198.38" stroke="#666" stroke-width="0.45"/>
<text x="267.7" y="200.87">13</text>
<line x1="268.8" x2="271.0" y1="209.74" y2="209.74" stroke="#666" stroke-width="0.45"/>
<text x="267.7" y="212.23">12</text>
<line x1="268.8" x2="271.0" y1="221.10" y2="221.10" stroke="#666" stroke-width="0.45"/>
<text x="267.7" y="223.59">11</text>
<line x1="268.8" x2="271.0" y1="232.47" y2="232.47" stroke="#666" stroke-width="0.45"/>
<text x="267.7" y="234.95">10</text>
<line x1="268.8" x2="271.0" y1="243.83" y2="243.83" stroke="#666" stroke-width="0.45"/>
<text x="267.7" y="246.31">9</text>
<line x1="268.8" x2="271.0" y1="255.19" y2="255.19" stroke="#666" stroke-width="0.45"/>
<text x="267.7" y="257.67">8</text>
<line x1="268.8" x2="271.0" y1="266.55" y2="266.55" stroke="#666" stroke-width="0.45"/>
<text x="267.7" y="269.03">7</text>
<line x1="268.8" x2="271.0" y1="277.91" y2="277.91" stroke="#666" stroke-width="0.45"/>
<text x="267.7" y="280.40">6</text>
<line x1="268.8" x2="271.0" y1="289.27" y2="289.27" stroke="#666" stroke-width="0.45"/>
<text x="267.7" y="291.76">5</text>
<line x1="268.8" x2="271.0" y1="300.63" y2="300.63" stroke="#666" stroke-width="0.45"/>
<text x="267.7" y="303.12">4</text>
<line x1="268.8" x2="271.0" y1="312.00" y2="312.00" stroke="#666" stroke-width="0.45"/>
<text x="267.7" y="314.48">3</text>
<line x1="268.8" x2="271.0" y1="323.36" y2="323.36" stroke="#666" stroke-width="0.45"/>
<text x="267.7" y="325.84">2</text>
<line x1="268.8" x2="271.0" y1="334.72" y2="334.72" stroke="#666" stroke-width="0.45"/>
<text x="267.7" y="337.20">1</text>
</g>
<g font-size="7.0" text-anchor="middle" fill="#111">
<line x1="278.75" x2="278.75" y1="340.4" y2="342.6" stroke="#666" stroke-width="0.45"/>
<text transform="translate(277.95,349.70) rotate(-28)" y="2.48">DJF</text>
<line x1="294.26" x2="294.26" y1="340.4" y2="342.6" stroke="#666" stroke-width="0.45"/>
<text transform="translate(293.46,349.70) rotate(-28)" y="2.48">JFM</text>
<line x1="309.77" x2="309.77" y1="340.4" y2="342.6" stroke="#666" stroke-width="0.45"/>
<text transform="translate(308.97,349.70) rotate(-28)" y="2.48">FMA</text>
<line x1="325.28" x2="325.28" y1="340.4" y2="342.6" stroke="#666" stroke-width="0.45"/>
<text transform="translate(324.48,349.70) rotate(-28)" y="2.48">MAM</text>
<line x1="340.79" x2="340.79" y1="340.4" y2="342.6" stroke="#666" stroke-width="0.45"/>
<text transform="translate(339.99,349.70) rotate(-28)" y="2.48">AMJ</text>
<line x1="356.30" x2="356.30" y1="340.4" y2="342.6" stroke="#666" stroke-width="0.45"/>
<text transform="translate(355.50,349.70) rotate(-28)" y="2.48">MJJ</text>
<line x1="371.80" x2="371.80" y1="340.4" y2="342.6" stroke="#666" stroke-width="0.45"/>
<text transform="translate(371.00,349.70) rotate(-28)" y="2.48">JJA</text>
<line x1="387.31" x2="387.31" y1="340.4" y2="342.6" stroke="#666" stroke-width="0.45"/>
<text transform="translate(386.51,349.70) rotate(-28)" y="2.48">JAS</text>
<line x1="402.82" x2="402.82" y1="340.4" y2="342.6" stroke="#666" stroke-width="0.45"/>
<text transform="translate(402.02,349.70) rotate(-28)" y="2.48">ASO</text>
<line x1="418.33" x2="418.33" y1="340.4" y2="342.6" stroke="#666" stroke-width="0.45"/>
<text transform="translate(417.53,349.70) rotate(-28)" y="2.48">SON</text>
<line x1="433.84" x2="433.84" y1="340.4" y2="342.6" stroke="#666" stroke-width="0.45"/>
<text transform="translate(433.04,349.70) rotate(-28)" y="2.48">OND</text>
<line x1="449.35" x2="449.35" y1="340.4" y2="342.6" stroke="#666" stroke-width="0.45"/>
<text transform="translate(448.55,349.70) rotate(-28)" y="2.48">NDJ</text>
</g>
<rect x="468.7" y="192.7" width="8.1" height="147.7" fill="url(#cw)"/>
<g font-size="7.3" fill="#111">
<text x="478.6" y="343.49">−0.2</text>
<text x="478.6" y="318.87">0.0</text>
<text x="478.6" y="294.26">0.2</text>
<text x="478.6" y="269.64">0.4</text>
<text x="478.6" y="245.02">0.6</text>
<text x="478.6" y="220.41">0.8</text>
<text x="478.6" y="195.79">1.0</text>
</g>
</g>
<g id="panel-e" class="t">
<text x="26.7" y="370.1" font-size="7.55" fill="#111">(e)ΔRMSE: FIO-CPS-HY minus FIO-CPS v2.0</text>
<g stroke="#fff" stroke-width="0.25">
<rect x="26.70" y="372.10" width="15.51" height="11.36" fill="#9bcbff"/>
<rect x="42.21" y="372.10" width="15.51" height="11.36" fill="#9bcbff"/>
<rect x="57.72" y="372.10" width="15.51" height="11.36" fill="#81bcff"/>
<rect x="73.22" y="372.10" width="15.51" height="11.36" fill="#85beff"/>
<rect x="88.73" y="372.10" width="15.51" height="11.36" fill="#91c6ff"/>
<rect x="104.24" y="372.10" width="15.51" height="11.36" fill="#88c1ff"/>
<rect x="119.75" y="372.10" width="15.51" height="11.36" fill="#69aaff"/>
<rect x="135.26" y="372.10" width="15.51" height="11.36" fill="#5091ff"/>
<rect x="150.77" y="372.10" width="15.51" height="11.36" fill="#427fff"/>
<rect x="166.27" y="372.10" width="15.51" height="11.36" fill="#407bff"/>
<rect x="181.78" y="372.10" width="15.51" height="11.36" fill="#5697ff"/>
<rect x="197.29" y="372.10" width="15.51" height="11.36" fill="#7bb8ff"/>
<rect x="26.70" y="383.46" width="15.51" height="11.36" fill="#88c1ff"/>
<rect x="42.21" y="383.46" width="15.51" height="11.36" fill="#77b5ff"/>
<rect x="57.72" y="383.46" width="15.51" height="11.36" fill="#74b3ff"/>
<rect x="73.22" y="383.46" width="15.51" height="11.36" fill="#77b5ff"/>
<rect x="88.73" y="383.46" width="15.51" height="11.36" fill="#8bc3ff"/>
<rect x="104.24" y="383.46" width="15.51" height="11.36" fill="#85beff"/>
<rect x="119.75" y="383.46" width="15.51" height="11.36" fill="#66a7ff"/>
<rect x="135.26" y="383.46" width="15.51" height="11.36" fill="#5091ff"/>
<rect x="150.77" y="383.46" width="15.51" height="11.36" fill="#5091ff"/>
<rect x="166.27" y="383.46" width="15.51" height="11.36" fill="#5d9eff"/>
<rect x="181.78" y="383.46" width="15.51" height="11.36" fill="#7bb8ff"/>
<rect x="197.29" y="383.46" width="15.51" height="11.36" fill="#81bcff"/>
<rect x="26.70" y="394.82" width="15.51" height="11.36" fill="#91c6ff"/>
<rect x="42.21" y="394.82" width="15.51" height="11.36" fill="#94c7ff"/>
<rect x="57.72" y="394.82" width="15.51" height="11.36" fill="#88c1ff"/>
<rect x="73.22" y="394.82" width="15.51" height="11.36" fill="#81bcff"/>
<rect x="88.73" y="394.82" width="15.51" height="11.36" fill="#85beff"/>
<rect x="104.24" y="394.82" width="15.51" height="11.36" fill="#7ebaff"/>
<rect x="119.75" y="394.82" width="15.51" height="11.36" fill="#6cacff"/>
<rect x="135.26" y="394.82" width="15.51" height="11.36" fill="#66a7ff"/>
<rect x="150.77" y="394.82" width="15.51" height="11.36" fill="#6cacff"/>
<rect x="166.27" y="394.82" width="15.51" height="11.36" fill="#8bc3ff"/>
<rect x="181.78" y="394.82" width="15.51" height="11.36" fill="#94c7ff"/>
<rect x="197.29" y="394.82" width="15.51" height="11.36" fill="#94c7ff"/>
<rect x="26.70" y="406.18" width="15.51" height="11.36" fill="#7ebaff"/>
<rect x="42.21" y="406.18" width="15.51" height="11.36" fill="#88c1ff"/>
<rect x="57.72" y="406.18" width="15.51" height="11.36" fill="#9ecdff"/>
<rect x="73.22" y="406.18" width="15.51" height="11.36" fill="#aed3ff"/>
<rect x="88.73" y="406.18" width="15.51" height="11.36" fill="#aad2ff"/>
<rect x="104.24" y="406.18" width="15.51" height="11.36" fill="#97c9ff"/>
<rect x="119.75" y="406.18" width="15.51" height="11.36" fill="#81bcff"/>
<rect x="135.26" y="406.18" width="15.51" height="11.36" fill="#81bcff"/>
<rect x="150.77" y="406.18" width="15.51" height="11.36" fill="#91c6ff"/>
<rect x="166.27" y="406.18" width="15.51" height="11.36" fill="#94c7ff"/>
<rect x="181.78" y="406.18" width="15.51" height="11.36" fill="#8bc3ff"/>
<rect x="197.29" y="406.18" width="15.51" height="11.36" fill="#7bb8ff"/>
<rect x="26.70" y="417.55" width="15.51" height="11.36" fill="#97c9ff"/>
<rect x="42.21" y="417.55" width="15.51" height="11.36" fill="#b8d7fc"/>
<rect x="57.72" y="417.55" width="15.51" height="11.36" fill="#bbd8fa"/>
<rect x="73.22" y="417.55" width="15.51" height="11.36" fill="#b1d4ff"/>
<rect x="88.73" y="417.55" width="15.51" height="11.36" fill="#9ecdff"/>
<rect x="104.24" y="417.55" width="15.51" height="11.36" fill="#8bc3ff"/>
<rect x="119.75" y="417.55" width="15.51" height="11.36" fill="#81bcff"/>
<rect x="135.26" y="417.55" width="15.51" height="11.36" fill="#8bc3ff"/>
<rect x="150.77" y="417.55" width="15.51" height="11.36" fill="#91c6ff"/>
<rect x="166.27" y="417.55" width="15.51" height="11.36" fill="#8bc3ff"/>
<rect x="181.78" y="417.55" width="15.51" height="11.36" fill="#77b5ff"/>
<rect x="197.29" y="417.55" width="15.51" height="11.36" fill="#7ebaff"/>
<rect x="26.70" y="428.91" width="15.51" height="11.36" fill="#c2daf6"/>
<rect x="42.21" y="428.91" width="15.51" height="11.36" fill="#d4dde7"/>
<rect x="57.72" y="428.91" width="15.51" height="11.36" fill="#cddced"/>
<rect x="73.22" y="428.91" width="15.51" height="11.36" fill="#b8d7fc"/>
<rect x="88.73" y="428.91" width="15.51" height="11.36" fill="#bfd9f8"/>
<rect x="104.24" y="428.91" width="15.51" height="11.36" fill="#b8d7fc"/>
<rect x="119.75" y="428.91" width="15.51" height="11.36" fill="#b8d7fc"/>
<rect x="135.26" y="428.91" width="15.51" height="11.36" fill="#aed3ff"/>
<rect x="150.77" y="428.91" width="15.51" height="11.36" fill="#9ecdff"/>
<rect x="166.27" y="428.91" width="15.51" height="11.36" fill="#85beff"/>
<rect x="181.78" y="428.91" width="15.51" height="11.36" fill="#81bcff"/>
<rect x="197.29" y="428.91" width="15.51" height="11.36" fill="#94c7ff"/>
<rect x="26.70" y="440.27" width="15.51" height="11.36" fill="#eed8cf"/>
<rect x="42.21" y="440.27" width="15.51" height="11.36" fill="#f8d4c4"/>
<rect x="57.72" y="440.27" width="15.51" height="11.36" fill="#eadad2"/>
<rect x="73.22" y="440.27" width="15.51" height="11.36" fill="#d0dcea"/>
<rect x="88.73" y="440.27" width="15.51" height="11.36" fill="#bbd8fa"/>
<rect x="104.24" y="440.27" width="15.51" height="11.36" fill="#c2daf6"/>
<rect x="119.75" y="440.27" width="15.51" height="11.36" fill="#bfd9f8"/>
<rect x="135.26" y="440.27" width="15.51" height="11.36" fill="#b8d7fc"/>
<rect x="150.77" y="440.27" width="15.51" height="11.36" fill="#9ecdff"/>
<rect x="166.27" y="440.27" width="15.51" height="11.36" fill="#91c6ff"/>
<rect x="181.78" y="440.27" width="15.51" height="11.36" fill="#9bcbff"/>
<rect x="197.29" y="440.27" width="15.51" height="11.36" fill="#cadbef"/>
<rect x="26.70" y="451.63" width="15.51" height="11.36" fill="#f1d7cb"/>
<rect x="42.21" y="451.63" width="15.51" height="11.36" fill="#eed8cf"/>
<rect x="57.72" y="451.63" width="15.51" height="11.36" fill="#dadde1"/>
<rect x="73.22" y="451.63" width="15.51" height="11.36" fill="#d0dcea"/>
<rect x="88.73" y="451.63" width="15.51" height="11.36" fill="#cddced"/>
<rect x="104.24" y="451.63" width="15.51" height="11.36" fill="#c2daf6"/>
<rect x="119.75" y="451.63" width="15.51" height="11.36" fill="#bbd8fa"/>
<rect x="135.26" y="451.63" width="15.51" height="11.36" fill="#9bcbff"/>
<rect x="150.77" y="451.63" width="15.51" height="11.36" fill="#8bc3ff"/>
<rect x="166.27" y="451.63" width="15.51" height="11.36" fill="#91c6ff"/>
<rect x="181.78" y="451.63" width="15.51" height="11.36" fill="#bbd8fa"/>
<rect x="197.29" y="451.63" width="15.51" height="11.36" fill="#dfdddd"/>
<rect x="26.70" y="462.99" width="15.51" height="11.36" fill="#ffcdb8"/>
<rect x="42.21" y="462.99" width="15.51" height="11.36" fill="#f8d4c4"/>
<rect x="57.72" y="462.99" width="15.51" height="11.36" fill="#e2dcd9"/>
<rect x="73.22" y="462.99" width="15.51" height="11.36" fill="#d7dde4"/>
<rect x="88.73" y="462.99" width="15.51" height="11.36" fill="#d4dde7"/>
<rect x="104.24" y="462.99" width="15.51" height="11.36" fill="#d4dde7"/>
<rect x="119.75" y="462.99" width="15.51" height="11.36" fill="#bfd9f8"/>
<rect x="135.26" y="462.99" width="15.51" height="11.36" fill="#aad2ff"/>
<rect x="150.77" y="462.99" width="15.51" height="11.36" fill="#b5d6fe"/>
<rect x="166.27" y="462.99" width="15.51" height="11.36" fill="#cddced"/>
<rect x="181.78" y="462.99" width="15.51" height="11.36" fill="#f4d5c8"/>
<rect x="197.29" y="462.99" width="15.51" height="11.36" fill="#ffcbb4"/>
<rect x="26.70" y="474.35" width="15.51" height="11.36" fill="#ffcfbb"/>
<rect x="42.21" y="474.35" width="15.51" height="11.36" fill="#f4d5c8"/>
<rect x="57.72" y="474.35" width="15.51" height="11.36" fill="#eadad2"/>
<rect x="73.22" y="474.35" width="15.51" height="11.36" fill="#dfdddd"/>
<rect x="88.73" y="474.35" width="15.51" height="11.36" fill="#dfdddd"/>
<rect x="104.24" y="474.35" width="15.51" height="11.36" fill="#c7dbf2"/>
<rect x="119.75" y="474.35" width="15.51" height="11.36" fill="#b1d4ff"/>
<rect x="135.26" y="474.35" width="15.51" height="11.36" fill="#b1d4ff"/>
<rect x="150.77" y="474.35" width="15.51" height="11.36" fill="#cadbef"/>
<rect x="166.27" y="474.35" width="15.51" height="11.36" fill="#e6dbd6"/>
<rect x="181.78" y="474.35" width="15.51" height="11.36" fill="#fcd1bf"/>
<rect x="197.29" y="474.35" width="15.51" height="11.36" fill="#ffcdb8"/>
<rect x="26.70" y="485.72" width="15.51" height="11.36" fill="#fcd1bf"/>
<rect x="42.21" y="485.72" width="15.51" height="11.36" fill="#f1d7cb"/>
<rect x="57.72" y="485.72" width="15.51" height="11.36" fill="#e2dcd9"/>
<rect x="73.22" y="485.72" width="15.51" height="11.36" fill="#dadde1"/>
<rect x="88.73" y="485.72" width="15.51" height="11.36" fill="#cddced"/>
<rect x="104.24" y="485.72" width="15.51" height="11.36" fill="#bfd9f8"/>
<rect x="119.75" y="485.72" width="15.51" height="11.36" fill="#b8d7fc"/>
<rect x="135.26" y="485.72" width="15.51" height="11.36" fill="#c7dbf2"/>
<rect x="150.77" y="485.72" width="15.51" height="11.36" fill="#dfdddd"/>
<rect x="166.27" y="485.72" width="15.51" height="11.36" fill="#f4d5c8"/>
<rect x="181.78" y="485.72" width="15.51" height="11.36" fill="#ffcfbb"/>
<rect x="197.29" y="485.72" width="15.51" height="11.36" fill="#ffcfbb"/>
<rect x="26.70" y="497.08" width="15.51" height="11.36" fill="#cddced"/>
<rect x="42.21" y="497.08" width="15.51" height="11.36" fill="#c7dbf2"/>
<rect x="57.72" y="497.08" width="15.51" height="11.36" fill="#bfd9f8"/>
<rect x="73.22" y="497.08" width="15.51" height="11.36" fill="#d7dde4"/>
<rect x="88.73" y="497.08" width="15.51" height="11.36" fill="#d0dcea"/>
<rect x="104.24" y="497.08" width="15.51" height="11.36" fill="#c2daf6"/>
<rect x="119.75" y="497.08" width="15.51" height="11.36" fill="#c2daf6"/>
<rect x="135.26" y="497.08" width="15.51" height="11.36" fill="#bfd9f8"/>
<rect x="150.77" y="497.08" width="15.51" height="11.36" fill="#c7dbf2"/>
<rect x="166.27" y="497.08" width="15.51" height="11.36" fill="#cadbef"/>
<rect x="181.78" y="497.08" width="15.51" height="11.36" fill="#cddced"/>
<rect x="197.29" y="497.08" width="15.51" height="11.36" fill="#d4dde7"/>
<rect x="26.70" y="508.44" width="15.51" height="11.36" fill="#dfdddd"/>
<rect x="42.21" y="508.44" width="15.51" height="11.36" fill="#d4dde7"/>
<rect x="57.72" y="508.44" width="15.51" height="11.36" fill="#cddced"/>
<rect x="73.22" y="508.44" width="15.51" height="11.36" fill="#cddced"/>
<rect x="88.73" y="508.44" width="15.51" height="11.36" fill="#cddced"/>
<rect x="104.24" y="508.44" width="15.51" height="11.36" fill="#cadbef"/>
<rect x="119.75" y="508.44" width="15.51" height="11.36" fill="#cddced"/>
<rect x="135.26" y="508.44" width="15.51" height="11.36" fill="#cadbef"/>
<rect x="150.77" y="508.44" width="15.51" height="11.36" fill="#d4dde7"/>
<rect x="166.27" y="508.44" width="15.51" height="11.36" fill="#cddced"/>
<rect x="181.78" y="508.44" width="15.51" height="11.36" fill="#cddced"/>
<rect x="197.29" y="508.44" width="15.51" height="11.36" fill="#d4dde7"/>
</g>
<g font-size="6.45" text-anchor="middle" stroke-width="0.15">
<text x="34.45" y="380.07" class="d">-0.19</text>
<text x="49.96" y="380.07" class="d">-0.19</text>
<text x="65.47" y="380.07" class="d">-0.26</text>
<text x="80.98" y="380.07" class="d">-0.25</text>
<text x="96.49" y="380.07" class="d">-0.22</text>
<text x="112.00" y="380.07" class="d">-0.24</text>
<text x="127.50" y="380.07" class="w">-0.33</text>
<text x="143.01" y="380.07" class="w">-0.41</text>
<text x="158.52" y="380.07" class="w">-0.46</text>
<text x="174.03" y="380.07" class="w">-0.47</text>
<text x="189.54" y="380.07" class="w">-0.39</text>
<text x="205.05" y="380.07" class="d">-0.28</text>
<text x="34.45" y="391.43" class="d">-0.24</text>
<text x="49.96" y="391.43" class="d">-0.29</text>
<text x="65.47" y="391.43" class="d">-0.30</text>
<text x="80.98" y="391.43" class="d">-0.29</text>
<text x="96.49" y="391.43" class="d">-0.23</text>
<text x="112.00" y="391.43" class="d">-0.25</text>
<text x="127.50" y="391.43" class="w">-0.34</text>
<text x="143.01" y="391.43" class="w">-0.41</text>
<text x="158.52" y="391.43" class="w">-0.41</text>
<text x="174.03" y="391.43" class="w">-0.37</text>
<text x="189.54" y="391.43" class="d">-0.28</text>
<text x="205.05" y="391.43" class="d">-0.26</text>
<text x="34.45" y="402.79" class="d">-0.22</text>
<text x="49.96" y="402.79" class="d">-0.21</text>
<text x="65.47" y="402.79" class="d">-0.24</text>
<text x="80.98" y="402.79" class="d">-0.26</text>
<text x="96.49" y="402.79" class="d">-0.25</text>
<text x="112.00" y="402.79" class="d">-0.27</text>
<text x="127.50" y="402.79" class="w">-0.32</text>
<text x="143.01" y="402.79" class="w">-0.34</text>
<text x="158.52" y="402.79" class="d">-0.32</text>
<text x="174.03" y="402.79" class="d">-0.23</text>
<text x="189.54" y="402.79" class="d">-0.21</text>
<text x="205.05" y="402.79" class="d">-0.21</text>
<text x="34.45" y="414.16" class="d">-0.27</text>
<text x="49.96" y="414.16" class="d">-0.24</text>
<text x="65.47" y="414.16" class="d">-0.18</text>
<text x="80.98" y="414.16" class="d">-0.14</text>
<text x="96.49" y="414.16" class="d">-0.15</text>
<text x="112.00" y="414.16" class="d">-0.20</text>
<text x="127.50" y="414.16" class="d">-0.26</text>
<text x="143.01" y="414.16" class="d">-0.26</text>
<text x="158.52" y="414.16" class="d">-0.22</text>
<text x="174.03" y="414.16" class="d">-0.21</text>
<text x="189.54" y="414.16" class="d">-0.23</text>
<text x="205.05" y="414.16" class="d">-0.28</text>
<text x="34.45" y="425.52" class="d">-0.20</text>
<text x="49.96" y="425.52" class="d">-0.11</text>
<text x="65.47" y="425.52" class="d">-0.10</text>
<text x="80.98" y="425.52" class="d">-0.13</text>
<text x="96.49" y="425.52" class="d">-0.18</text>
<text x="112.00" y="425.52" class="d">-0.23</text>
<text x="127.50" y="425.52" class="d">-0.26</text>
<text x="143.01" y="425.52" class="d">-0.23</text>
<text x="158.52" y="425.52" class="d">-0.22</text>
<text x="174.03" y="425.52" class="d">-0.23</text>
<text x="189.54" y="425.52" class="d">-0.29</text>
<text x="205.05" y="425.52" class="d">-0.27</text>
<text x="34.45" y="436.88" class="d">-0.08</text>
<text x="49.96" y="436.88" class="d">-0.03</text>
<text x="65.47" y="436.88" class="d">-0.05</text>
<text x="80.98" y="436.88" class="d">-0.11</text>
<text x="96.49" y="436.88" class="d">-0.09</text>
<text x="112.00" y="436.88" class="d">-0.11</text>
<text x="127.50" y="436.88" class="d">-0.11</text>
<text x="143.01" y="436.88" class="d">-0.14</text>
<text x="158.52" y="436.88" class="d">-0.18</text>
<text x="174.03" y="436.88" class="d">-0.25</text>
<text x="189.54" y="436.88" class="d">-0.26</text>
<text x="205.05" y="436.88" class="d">-0.21</text>
<text x="34.45" y="448.24" class="d">0.04</text>
<text x="49.96" y="448.24" class="d">0.07</text>
<text x="65.47" y="448.24" class="d">0.03</text>
<text x="80.98" y="448.24" class="d">-0.04</text>
<text x="96.49" y="448.24" class="d">-0.10</text>
<text x="112.00" y="448.24" class="d">-0.08</text>
<text x="127.50" y="448.24" class="d">-0.09</text>
<text x="143.01" y="448.24" class="d">-0.11</text>
<text x="158.52" y="448.24" class="d">-0.18</text>
<text x="174.03" y="448.24" class="d">-0.22</text>
<text x="189.54" y="448.24" class="d">-0.19</text>
<text x="205.05" y="448.24" class="d">-0.06</text>
<text x="34.45" y="459.60" class="d">0.05</text>
<text x="49.96" y="459.60" class="d">0.04</text>
<text x="65.47" y="459.60" class="d">-0.01</text>
<text x="80.98" y="459.60" class="d">-0.04</text>
<text x="96.49" y="459.60" class="d">-0.05</text>
<text x="112.00" y="459.60" class="d">-0.08</text>
<text x="127.50" y="459.60" class="d">-0.10</text>
<text x="143.01" y="459.60" class="d">-0.19</text>
<text x="158.52" y="459.60" class="d">-0.23</text>
<text x="174.03" y="459.60" class="d">-0.22</text>
<text x="189.54" y="459.60" class="d">-0.10</text>
<text x="205.05" y="459.60" class="d">-0.00</text>
<text x="34.45" y="470.96" class="d">0.10</text>
<text x="49.96" y="470.96" class="d">0.07</text>
<text x="65.47" y="470.96" class="d">0.01</text>
<text x="80.98" y="470.96" class="d">-0.02</text>
<text x="96.49" y="470.96" class="d">-0.03</text>
<text x="112.00" y="470.96" class="d">-0.03</text>
<text x="127.50" y="470.96" class="d">-0.09</text>
<text x="143.01" y="470.96" class="d">-0.15</text>
<text x="158.52" y="470.96" class="d">-0.12</text>
<text x="174.03" y="470.96" class="d">-0.05</text>
<text x="189.54" y="470.96" class="d">0.06</text>
<text x="205.05" y="470.96" class="d">0.11</text>
<text x="34.45" y="482.32" class="d">0.09</text>
<text x="49.96" y="482.32" class="d">0.06</text>
<text x="65.47" y="482.32" class="d">0.03</text>
<text x="80.98" y="482.32" class="d">0.00</text>
<text x="96.49" y="482.32" class="d">0.00</text>
<text x="112.00" y="482.32" class="d">-0.07</text>
<text x="127.50" y="482.32" class="d">-0.13</text>
<text x="143.01" y="482.32" class="d">-0.13</text>
<text x="158.52" y="482.32" class="d">-0.06</text>
<text x="174.03" y="482.32" class="d">0.02</text>
<text x="189.54" y="482.32" class="d">0.08</text>
<text x="205.05" y="482.32" class="d">0.10</text>
<text x="34.45" y="493.69" class="d">0.08</text>
<text x="49.96" y="493.69" class="d">0.05</text>
<text x="65.47" y="493.69" class="d">0.01</text>
<text x="80.98" y="493.69" class="d">-0.01</text>
<text x="96.49" y="493.69" class="d">-0.05</text>
<text x="112.00" y="493.69" class="d">-0.09</text>
<text x="127.50" y="493.69" class="d">-0.11</text>
<text x="143.01" y="493.69" class="d">-0.07</text>
<text x="158.52" y="493.69" class="d">-0.00</text>
<text x="174.03" y="493.69" class="d">0.06</text>
<text x="189.54" y="493.69" class="d">0.09</text>
<text x="205.05" y="493.69" class="d">0.09</text>
<text x="34.45" y="505.05" class="d">-0.05</text>
<text x="49.96" y="505.05" class="d">-0.07</text>
<text x="65.47" y="505.05" class="d">-0.09</text>
<text x="80.98" y="505.05" class="d">-0.02</text>
<text x="96.49" y="505.05" class="d">-0.04</text>
<text x="112.00" y="505.05" class="d">-0.08</text>
<text x="127.50" y="505.05" class="d">-0.08</text>
<text x="143.01" y="505.05" class="d">-0.09</text>
<text x="158.52" y="505.05" class="d">-0.07</text>
<text x="174.03" y="505.05" class="d">-0.06</text>
<text x="189.54" y="505.05" class="d">-0.05</text>
<text x="205.05" y="505.05" class="d">-0.03</text>
<text x="34.45" y="516.41" class="d">-0.00</text>
<text x="49.96" y="516.41" class="d">-0.03</text>
<text x="65.47" y="516.41" class="d">-0.05</text>
<text x="80.98" y="516.41" class="d">-0.05</text>
<text x="96.49" y="516.41" class="d">-0.05</text>
<text x="112.00" y="516.41" class="d">-0.06</text>
<text x="127.50" y="516.41" class="d">-0.05</text>
<text x="143.01" y="516.41" class="d">-0.06</text>
<text x="158.52" y="516.41" class="d">-0.03</text>
<text x="174.03" y="516.41" class="d">-0.05</text>
<text x="189.54" y="516.41" class="d">-0.05</text>
<text x="205.05" y="516.41" class="d">-0.03</text>
</g>
<g font-size="7.0" text-anchor="end" fill="#111">
<line x1="24.5" x2="26.7" y1="377.78" y2="377.78" stroke="#666" stroke-width="0.45"/>
<text x="22.7" y="380.27">13</text>
<line x1="24.5" x2="26.7" y1="389.14" y2="389.14" stroke="#666" stroke-width="0.45"/>
<text x="22.7" y="391.63">12</text>
<line x1="24.5" x2="26.7" y1="400.50" y2="400.50" stroke="#666" stroke-width="0.45"/>
<text x="22.7" y="402.99">11</text>
<line x1="24.5" x2="26.7" y1="411.87" y2="411.87" stroke="#666" stroke-width="0.45"/>
<text x="22.7" y="414.35">10</text>
<line x1="24.5" x2="26.7" y1="423.23" y2="423.23" stroke="#666" stroke-width="0.45"/>
<text x="22.7" y="425.71">9</text>
<line x1="24.5" x2="26.7" y1="434.59" y2="434.59" stroke="#666" stroke-width="0.45"/>
<text x="22.7" y="437.07">8</text>
<line x1="24.5" x2="26.7" y1="445.95" y2="445.95" stroke="#666" stroke-width="0.45"/>
<text x="22.7" y="448.44">7</text>
<line x1="24.5" x2="26.7" y1="457.31" y2="457.31" stroke="#666" stroke-width="0.45"/>
<text x="22.7" y="459.80">6</text>
<line x1="24.5" x2="26.7" y1="468.67" y2="468.67" stroke="#666" stroke-width="0.45"/>
<text x="22.7" y="471.16">5</text>
<line x1="24.5" x2="26.7" y1="480.03" y2="480.03" stroke="#666" stroke-width="0.45"/>
<text x="22.7" y="482.52">4</text>
<line x1="24.5" x2="26.7" y1="491.40" y2="491.40" stroke="#666" stroke-width="0.45"/>
<text x="22.7" y="493.88">3</text>
<line x1="24.5" x2="26.7" y1="502.76" y2="502.76" stroke="#666" stroke-width="0.45"/>
<text x="22.7" y="505.24">2</text>
<line x1="24.5" x2="26.7" y1="514.12" y2="514.12" stroke="#666" stroke-width="0.45"/>
<text x="22.7" y="516.60">1</text>
</g>
<g font-size="7.0" text-anchor="middle" fill="#111">
<line x1="34.45" x2="34.45" y1="519.8" y2="522.0" stroke="#666" stroke-width="0.45"/>
<text transform="translate(33.65,529.10) rotate(-28)" y="2.48">DJF</text>
<line x1="49.96" x2="49.96" y1="519.8" y2="522.0" stroke="#666" stroke-width="0.45"/>
<text transform="translate(49.16,529.10) rotate(-28)" y="2.48">JFM</text>
<line x1="65.47" x2="65.47" y1="519.8" y2="522.0" stroke="#666" stroke-width="0.45"/>
<text transform="translate(64.67,529.10) rotate(-28)" y="2.48">FMA</text>
<line x1="80.98" x2="80.98" y1="519.8" y2="522.0" stroke="#666" stroke-width="0.45"/>
<text transform="translate(80.18,529.10) rotate(-28)" y="2.48">MAM</text>
<line x1="96.49" x2="96.49" y1="519.8" y2="522.0" stroke="#666" stroke-width="0.45"/>
<text transform="translate(95.69,529.10) rotate(-28)" y="2.48">AMJ</text>
<line x1="112.00" x2="112.00" y1="519.8" y2="522.0" stroke="#666" stroke-width="0.45"/>
<text transform="translate(111.20,529.10) rotate(-28)" y="2.48">MJJ</text>
<line x1="127.50" x2="127.50" y1="519.8" y2="522.0" stroke="#666" stroke-width="0.45"/>
<text transform="translate(126.70,529.10) rotate(-28)" y="2.48">JJA</text>
<line x1="143.01" x2="143.01" y1="519.8" y2="522.0" stroke="#666" stroke-width="0.45"/>
<text transform="translate(142.21,529.10) rotate(-28)" y="2.48">JAS</text>
<line x1="158.52" x2="158.52" y1="519.8" y2="522.0" stroke="#666" stroke-width="0.45"/>
<text transform="translate(157.72,529.10) rotate(-28)" y="2.48">ASO</text>
<line x1="174.03" x2="174.03" y1="519.8" y2="522.0" stroke="#666" stroke-width="0.45"/>
<text transform="translate(173.23,529.10) rotate(-28)" y="2.48">SON</text>
<line x1="189.54" x2="189.54" y1="519.8" y2="522.0" stroke="#666" stroke-width="0.45"/>
<text transform="translate(188.74,529.10) rotate(-28)" y="2.48">OND</text>
<line x1="205.05" x2="205.05" y1="519.8" y2="522.0" stroke="#666" stroke-width="0.45"/>
<text transform="translate(204.25,529.10) rotate(-28)" y="2.48">NDJ</text>
</g>
<rect x="224.2" y="372.1" width="8.1" height="147.7" fill="url(#cw)"/>
<g font-size="7.3" fill="#111">
<text x="234.1" y="522.89">−0.6</text>
<text x="234.1" y="498.27">−0.4</text>
<text x="234.1" y="473.66">−0.2</text>
<text x="234.1" y="449.04">0.0</text>
<text x="234.1" y="424.42">0.2</text>
<text x="234.1" y="399.81">0.4</text>
<text x="234.1" y="375.19">0.6</text>
</g>
<text x="245.1" y="463.3" font-size="7.2" fill="#111"><tspan font-size="4.6" dy="-2.6">°</tspan><tspan dy="2.6" dx="0.6">C</tspan></text>
<text transform="translate(11.0,446.0) rotate(-90)" text-anchor="middle" font-size="7.4" fill="#111">Lead Month</text>
<text x="119.8" y="543.9" text-anchor="middle" font-size="7.4" fill="#111">Target Month</text>
</g>
<g id="panel-f" class="t">
<text x="271.0" y="370.1" font-size="7.55" fill="#111">(f)ΔACC: FIO-CPS-HY minus FIO-CPS v2.0</text>
<g stroke="#fff" stroke-width="0.25">
<rect x="271.00" y="372.10" width="15.51" height="11.36" fill="#ffc2a4"/>
<rect x="286.51" y="372.10" width="15.51" height="11.36" fill="#ffc7ad"/>
<rect x="302.02" y="372.10" width="15.51" height="11.36" fill="#ffb896"/>
<rect x="317.52" y="372.10" width="15.51" height="11.36" fill="#ffc1a3"/>
<rect x="333.03" y="372.10" width="15.51" height="11.36" fill="#ffcab3"/>
<rect x="348.54" y="372.10" width="15.51" height="11.36" fill="#ffc1a3"/>
<rect x="364.05" y="372.10" width="15.51" height="11.36" fill="#ff855e"/>
<rect x="379.56" y="372.10" width="15.51" height="11.36" fill="#ff4332"/>
<rect x="395.07" y="372.10" width="15.51" height="11.36" fill="#ff2526"/>
<rect x="410.57" y="372.10" width="15.51" height="11.36" fill="#fb1b23"/>
<rect x="426.08" y="372.10" width="15.51" height="11.36" fill="#ff6546"/>
<rect x="441.59" y="372.10" width="15.51" height="11.36" fill="#ff9870"/>
<rect x="271.00" y="383.46" width="15.51" height="11.36" fill="#ffbd9d"/>
<rect x="286.51" y="383.46" width="15.51" height="11.36" fill="#ffb491"/>
<rect x="302.02" y="383.46" width="15.51" height="11.36" fill="#ffb08c"/>
<rect x="317.52" y="383.46" width="15.51" height="11.36" fill="#ffb896"/>
<rect x="333.03" y="383.46" width="15.51" height="11.36" fill="#ffcab3"/>
<rect x="348.54" y="383.46" width="15.51" height="11.36" fill="#ffb896"/>
<rect x="364.05" y="383.46" width="15.51" height="11.36" fill="#ff6f4d"/>
<rect x="379.56" y="383.46" width="15.51" height="11.36" fill="#ff4031"/>
<rect x="395.07" y="383.46" width="15.51" height="11.36" fill="#ff4c37"/>
<rect x="410.57" y="383.46" width="15.51" height="11.36" fill="#ff6f4d"/>
<rect x="426.08" y="383.46" width="15.51" height="11.36" fill="#ff9b74"/>
<rect x="441.59" y="383.46" width="15.51" height="11.36" fill="#ffac87"/>
<rect x="271.00" y="394.82" width="15.51" height="11.36" fill="#ffc7ad"/>
<rect x="286.51" y="394.82" width="15.51" height="11.36" fill="#ffccb6"/>
<rect x="302.02" y="394.82" width="15.51" height="11.36" fill="#ffc2a4"/>
<rect x="317.52" y="394.82" width="15.51" height="11.36" fill="#ffc4a8"/>
<rect x="333.03" y="394.82" width="15.51" height="11.36" fill="#ffc7ad"/>
<rect x="348.54" y="394.82" width="15.51" height="11.36" fill="#ffb38f"/>
<rect x="364.05" y="394.82" width="15.51" height="11.36" fill="#ff815b"/>
<rect x="379.56" y="394.82" width="15.51" height="11.36" fill="#ff7753"/>
<rect x="395.07" y="394.82" width="15.51" height="11.36" fill="#ff855e"/>
<rect x="410.57" y="394.82" width="15.51" height="11.36" fill="#ffa37c"/>
<rect x="426.08" y="394.82" width="15.51" height="11.36" fill="#ffac87"/>
<rect x="441.59" y="394.82" width="15.51" height="11.36" fill="#ffb896"/>
<rect x="271.00" y="406.18" width="15.51" height="11.36" fill="#ffbe9f"/>
<rect x="286.51" y="406.18" width="15.51" height="11.36" fill="#ffc4a8"/>
<rect x="302.02" y="406.18" width="15.51" height="11.36" fill="#fcd1bf"/>
<rect x="317.52" y="406.18" width="15.51" height="11.36" fill="#e4dbd8"/>
<rect x="333.03" y="406.18" width="15.51" height="11.36" fill="#eadad2"/>
<rect x="348.54" y="406.18" width="15.51" height="11.36" fill="#ffccb6"/>
<rect x="364.05" y="406.18" width="15.51" height="11.36" fill="#ffa983"/>
<rect x="379.56" y="406.18" width="15.51" height="11.36" fill="#ff9d76"/>
<rect x="395.07" y="406.18" width="15.51" height="11.36" fill="#ffa882"/>
<rect x="410.57" y="406.18" width="15.51" height="11.36" fill="#ffb08c"/>
<rect x="426.08" y="406.18" width="15.51" height="11.36" fill="#ffb38f"/>
<rect x="441.59" y="406.18" width="15.51" height="11.36" fill="#ffb491"/>
<rect x="271.00" y="417.55" width="15.51" height="11.36" fill="#ffcab3"/>
<rect x="286.51" y="417.55" width="15.51" height="11.36" fill="#eadad2"/>
<rect x="302.02" y="417.55" width="15.51" height="11.36" fill="#e6dbd6"/>
<rect x="317.52" y="417.55" width="15.51" height="11.36" fill="#e1dddb"/>
<rect x="333.03" y="417.55" width="15.51" height="11.36" fill="#fbd2c1"/>
<rect x="348.54" y="417.55" width="15.51" height="11.36" fill="#ffb795"/>
<rect x="364.05" y="417.55" width="15.51" height="11.36" fill="#ff8a63"/>
<rect x="379.56" y="417.55" width="15.51" height="11.36" fill="#ff956d"/>
<rect x="395.07" y="417.55" width="15.51" height="11.36" fill="#ffa57e"/>
<rect x="410.57" y="417.55" width="15.51" height="11.36" fill="#ffa983"/>
<rect x="426.08" y="417.55" width="15.51" height="11.36" fill="#ffa983"/>
<rect x="441.59" y="417.55" width="15.51" height="11.36" fill="#ffb896"/>
<rect x="271.00" y="428.91" width="15.51" height="11.36" fill="#eadad2"/>
<rect x="286.51" y="428.91" width="15.51" height="11.36" fill="#dbdde0"/>
<rect x="302.02" y="428.91" width="15.51" height="11.36" fill="#dbdde0"/>
<rect x="317.52" y="428.91" width="15.51" height="11.36" fill="#e6dbd6"/>
<rect x="333.03" y="428.91" width="15.51" height="11.36" fill="#dfdddd"/>
<rect x="348.54" y="428.91" width="15.51" height="11.36" fill="#efd7cd"/>
<rect x="364.05" y="428.91" width="15.51" height="11.36" fill="#ffccb6"/>
<rect x="379.56" y="428.91" width="15.51" height="11.36" fill="#ffc1a3"/>
<rect x="395.07" y="428.91" width="15.51" height="11.36" fill="#ffbd9d"/>
<rect x="410.57" y="428.91" width="15.51" height="11.36" fill="#ffb491"/>
<rect x="426.08" y="428.91" width="15.51" height="11.36" fill="#ffb795"/>
<rect x="441.59" y="428.91" width="15.51" height="11.36" fill="#ffc2a4"/>
<rect x="271.00" y="440.27" width="15.51" height="11.36" fill="#d8dde3"/>
<rect x="286.51" y="440.27" width="15.51" height="11.36" fill="#cfdceb"/>
<rect x="302.02" y="440.27" width="15.51" height="11.36" fill="#dbdde0"/>
<rect x="317.52" y="440.27" width="15.51" height="11.36" fill="#dfdddd"/>
<rect x="333.03" y="440.27" width="15.51" height="11.36" fill="#e6dbd6"/>
<rect x="348.54" y="440.27" width="15.51" height="11.36" fill="#e6dbd6"/>
<rect x="364.05" y="440.27" width="15.51" height="11.36" fill="#ffceba"/>
<rect x="379.56" y="440.27" width="15.51" height="11.36" fill="#ffc9b1"/>
<rect x="395.07" y="440.27" width="15.51" height="11.36" fill="#ffc9b1"/>
<rect x="410.57" y="440.27" width="15.51" height="11.36" fill="#ffbb9a"/>
<rect x="426.08" y="440.27" width="15.51" height="11.36" fill="#ffc4a8"/>
<rect x="441.59" y="440.27" width="15.51" height="11.36" fill="#f4d5c8"/>
<rect x="271.00" y="451.63" width="15.51" height="11.36" fill="#d7dde4"/>
<rect x="286.51" y="451.63" width="15.51" height="11.36" fill="#dbdde0"/>
<rect x="302.02" y="451.63" width="15.51" height="11.36" fill="#e4dbd8"/>
<rect x="317.52" y="451.63" width="15.51" height="11.36" fill="#dfdddd"/>
<rect x="333.03" y="451.63" width="15.51" height="11.36" fill="#dbdde0"/>
<rect x="348.54" y="451.63" width="15.51" height="11.36" fill="#f4d5c8"/>
<rect x="364.05" y="451.63" width="15.51" height="11.36" fill="#ffc7ad"/>
<rect x="379.56" y="451.63" width="15.51" height="11.36" fill="#ffc1a3"/>
<rect x="395.07" y="451.63" width="15.51" height="11.36" fill="#ffbd9d"/>
<rect x="410.57" y="451.63" width="15.51" height="11.36" fill="#ffbd9d"/>
<rect x="426.08" y="451.63" width="15.51" height="11.36" fill="#fbd2c1"/>
<rect x="441.59" y="451.63" width="15.51" height="11.36" fill="#e6dbd6"/>
<rect x="271.00" y="462.99" width="15.51" height="11.36" fill="#dbdde0"/>
<rect x="286.51" y="462.99" width="15.51" height="11.36" fill="#e1dddb"/>
<rect x="302.02" y="462.99" width="15.51" height="11.36" fill="#eed8cf"/>
<rect x="317.52" y="462.99" width="15.51" height="11.36" fill="#e6dbd6"/>
<rect x="333.03" y="462.99" width="15.51" height="11.36" fill="#dbdde0"/>
<rect x="348.54" y="462.99" width="15.51" height="11.36" fill="#eadad2"/>
<rect x="364.05" y="462.99" width="15.51" height="11.36" fill="#ffceba"/>
<rect x="379.56" y="462.99" width="15.51" height="11.36" fill="#ffc4a8"/>
<rect x="395.07" y="462.99" width="15.51" height="11.36" fill="#ffcab3"/>
<rect x="410.57" y="462.99" width="15.51" height="11.36" fill="#f4d5c8"/>
<rect x="426.08" y="462.99" width="15.51" height="11.36" fill="#e1dddb"/>
<rect x="441.59" y="462.99" width="15.51" height="11.36" fill="#d8dde3"/>
<rect x="271.00" y="474.35" width="15.51" height="11.36" fill="#dbdde0"/>
<rect x="286.51" y="474.35" width="15.51" height="11.36" fill="#dfdddd"/>
<rect x="302.02" y="474.35" width="15.51" height="11.36" fill="#e1dddb"/>
<rect x="317.52" y="474.35" width="15.51" height="11.36" fill="#dbdde0"/>
<rect x="333.03" y="474.35" width="15.51" height="11.36" fill="#d7dde4"/>
<rect x="348.54" y="474.35" width="15.51" height="11.36" fill="#f4d5c8"/>
<rect x="364.05" y="474.35" width="15.51" height="11.36" fill="#ffc7ad"/>
<rect x="379.56" y="474.35" width="15.51" height="11.36" fill="#ffccb6"/>
<rect x="395.07" y="474.35" width="15.51" height="11.36" fill="#eed8cf"/>
<rect x="410.57" y="474.35" width="15.51" height="11.36" fill="#e4dbd8"/>
<rect x="426.08" y="474.35" width="15.51" height="11.36" fill="#dfdddd"/>
<rect x="441.59" y="474.35" width="15.51" height="11.36" fill="#dfdddd"/>
<rect x="271.00" y="485.72" width="15.51" height="11.36" fill="#dfdddd"/>
<rect x="286.51" y="485.72" width="15.51" height="11.36" fill="#dfdddd"/>
<rect x="302.02" y="485.72" width="15.51" height="11.36" fill="#e4dbd8"/>
<rect x="317.52" y="485.72" width="15.51" height="11.36" fill="#dfdddd"/>
<rect x="333.03" y="485.72" width="15.51" height="11.36" fill="#e4dbd8"/>
<rect x="348.54" y="485.72" width="15.51" height="11.36" fill="#fbd2c1"/>
<rect x="364.05" y="485.72" width="15.51" height="11.36" fill="#ffc9b1"/>
<rect x="379.56" y="485.72" width="15.51" height="11.36" fill="#f8d4c4"/>
<rect x="395.07" y="485.72" width="15.51" height="11.36" fill="#e6dbd6"/>
<rect x="410.57" y="485.72" width="15.51" height="11.36" fill="#dfdddd"/>
<rect x="426.08" y="485.72" width="15.51" height="11.36" fill="#dfdddd"/>
<rect x="441.59" y="485.72" width="15.51" height="11.36" fill="#dfdddd"/>
<rect x="271.00" y="497.08" width="15.51" height="11.36" fill="#e6dbd6"/>
<rect x="286.51" y="497.08" width="15.51" height="11.36" fill="#e6dbd6"/>
<rect x="302.02" y="497.08" width="15.51" height="11.36" fill="#e6dbd6"/>
<rect x="317.52" y="497.08" width="15.51" height="11.36" fill="#e1dddb"/>
<rect x="333.03" y="497.08" width="15.51" height="11.36" fill="#e4dbd8"/>
<rect x="348.54" y="497.08" width="15.51" height="11.36" fill="#f8d4c4"/>
<rect x="364.05" y="497.08" width="15.51" height="11.36" fill="#f4d5c8"/>
<rect x="379.56" y="497.08" width="15.51" height="11.36" fill="#efd7cd"/>
<rect x="395.07" y="497.08" width="15.51" height="11.36" fill="#eadad2"/>
<rect x="410.57" y="497.08" width="15.51" height="11.36" fill="#e6dbd6"/>
<rect x="426.08" y="497.08" width="15.51" height="11.36" fill="#e4dbd8"/>
<rect x="441.59" y="497.08" width="15.51" height="11.36" fill="#e4dbd8"/>
<rect x="271.00" y="508.44" width="15.51" height="11.36" fill="#dfdddd"/>
<rect x="286.51" y="508.44" width="15.51" height="11.36" fill="#e1dddb"/>
<rect x="302.02" y="508.44" width="15.51" height="11.36" fill="#e4dbd8"/>
<rect x="317.52" y="508.44" width="15.51" height="11.36" fill="#e1dddb"/>
<rect x="333.03" y="508.44" width="15.51" height="11.36" fill="#e6dbd6"/>
<rect x="348.54" y="508.44" width="15.51" height="11.36" fill="#eed8cf"/>
<rect x="364.05" y="508.44" width="15.51" height="11.36" fill="#e6dbd6"/>
<rect x="379.56" y="508.44" width="15.51" height="11.36" fill="#e4dbd8"/>
<rect x="395.07" y="508.44" width="15.51" height="11.36" fill="#e4dbd8"/>
<rect x="410.57" y="508.44" width="15.51" height="11.36" fill="#e4dbd8"/>
<rect x="426.08" y="508.44" width="15.51" height="11.36" fill="#e4dbd8"/>
<rect x="441.59" y="508.44" width="15.51" height="11.36" fill="#e1dddb"/>
</g>
<g font-size="6.45" text-anchor="middle" stroke-width="0.15">
<text x="278.75" y="380.07" class="d">0.20</text>
<text x="294.26" y="380.07" class="d">0.17</text>
<text x="309.77" y="380.07" class="d">0.25</text>
<text x="325.28" y="380.07" class="d">0.21</text>
<text x="340.79" y="380.07" class="d">0.15</text>
<text x="356.30" y="380.07" class="d">0.21</text>
<text x="371.80" y="380.07" class="w">0.46</text>
<text x="387.31" y="380.07" class="w">0.65</text>
<text x="402.82" y="380.07" class="w">0.72</text>
<text x="418.33" y="380.07" class="w">0.74</text>
<text x="433.84" y="380.07" class="w">0.56</text>
<text x="449.35" y="380.07" class="d">0.39</text>
<text x="278.75" y="391.43" class="d">0.23</text>
<text x="294.26" y="391.43" class="d">0.27</text>
<text x="309.77" y="391.43" class="d">0.29</text>
<text x="325.28" y="391.43" class="d">0.25</text>
<text x="340.79" y="391.43" class="d">0.15</text>
<text x="356.30" y="391.43" class="d">0.25</text>
<text x="371.80" y="391.43" class="w">0.53</text>
<text x="387.31" y="391.43" class="w">0.66</text>
<text x="402.82" y="391.43" class="w">0.63</text>
<text x="418.33" y="391.43" class="w">0.53</text>
<text x="433.84" y="391.43" class="d">0.38</text>
<text x="449.35" y="391.43" class="d">0.31</text>
<text x="278.75" y="402.79" class="d">0.17</text>
<text x="294.26" y="402.79" class="d">0.14</text>
<text x="309.77" y="402.79" class="d">0.20</text>
<text x="325.28" y="402.79" class="d">0.19</text>
<text x="340.79" y="402.79" class="d">0.17</text>
<text x="356.30" y="402.79" class="d">0.28</text>
<text x="371.80" y="402.79" class="w">0.47</text>
<text x="387.31" y="402.79" class="w">0.50</text>
<text x="402.82" y="402.79" class="w">0.46</text>
<text x="418.33" y="402.79" class="d">0.35</text>
<text x="433.84" y="402.79" class="d">0.31</text>
<text x="449.35" y="402.79" class="d">0.25</text>
<text x="278.75" y="414.16" class="d">0.22</text>
<text x="294.26" y="414.16" class="d">0.19</text>
<text x="309.77" y="414.16" class="d">0.11</text>
<text x="325.28" y="414.16" class="d">0.02</text>
<text x="340.79" y="414.16" class="d">0.04</text>
<text x="356.30" y="414.16" class="d">0.14</text>
<text x="371.80" y="414.16" class="d">0.32</text>
<text x="387.31" y="414.16" class="d">0.37</text>
<text x="402.82" y="414.16" class="d">0.33</text>
<text x="418.33" y="414.16" class="d">0.29</text>
<text x="433.84" y="414.16" class="d">0.28</text>
<text x="449.35" y="414.16" class="d">0.27</text>
<text x="278.75" y="425.52" class="d">0.15</text>
<text x="294.26" y="425.52" class="d">0.04</text>
<text x="309.77" y="425.52" class="d">0.03</text>
<text x="325.28" y="425.52" class="d">0.01</text>
<text x="340.79" y="425.52" class="d">0.10</text>
<text x="356.30" y="425.52" class="d">0.26</text>
<text x="371.80" y="425.52" class="w">0.44</text>
<text x="387.31" y="425.52" class="d">0.40</text>
<text x="402.82" y="425.52" class="d">0.34</text>
<text x="418.33" y="425.52" class="d">0.32</text>
<text x="433.84" y="425.52" class="d">0.32</text>
<text x="449.35" y="425.52" class="d">0.25</text>
<text x="278.75" y="436.88" class="d">0.04</text>
<text x="294.26" y="436.88" class="d">-0.01</text>
<text x="309.77" y="436.88" class="d">-0.01</text>
<text x="325.28" y="436.88" class="d">0.03</text>
<text x="340.79" y="436.88" class="d">-0.00</text>
<text x="356.30" y="436.88" class="d">0.06</text>
<text x="371.80" y="436.88" class="d">0.14</text>
<text x="387.31" y="436.88" class="d">0.21</text>
<text x="402.82" y="436.88" class="d">0.23</text>
<text x="418.33" y="436.88" class="d">0.27</text>
<text x="433.84" y="436.88" class="d">0.26</text>
<text x="449.35" y="436.88" class="d">0.20</text>
<text x="278.75" y="448.24" class="d">-0.02</text>
<text x="294.26" y="448.24" class="d">-0.06</text>
<text x="309.77" y="448.24" class="d">-0.01</text>
<text x="325.28" y="448.24" class="d">0.00</text>
<text x="340.79" y="448.24" class="d">0.03</text>
<text x="356.30" y="448.24" class="d">0.03</text>
<text x="371.80" y="448.24" class="d">0.13</text>
<text x="387.31" y="448.24" class="d">0.16</text>
<text x="402.82" y="448.24" class="d">0.16</text>
<text x="418.33" y="448.24" class="d">0.24</text>
<text x="433.84" y="448.24" class="d">0.19</text>
<text x="449.35" y="448.24" class="d">0.08</text>
<text x="278.75" y="459.60" class="d">-0.03</text>
<text x="294.26" y="459.60" class="d">-0.01</text>
<text x="309.77" y="459.60" class="d">0.02</text>
<text x="325.28" y="459.60" class="d">-0.00</text>
<text x="340.79" y="459.60" class="d">-0.01</text>
<text x="356.30" y="459.60" class="d">0.08</text>
<text x="371.80" y="459.60" class="d">0.17</text>
<text x="387.31" y="459.60" class="d">0.21</text>
<text x="402.82" y="459.60" class="d">0.23</text>
<text x="418.33" y="459.60" class="d">0.23</text>
<text x="433.84" y="459.60" class="d">0.10</text>
<text x="449.35" y="459.60" class="d">0.03</text>
<text x="278.75" y="470.96" class="d">-0.01</text>
<text x="294.26" y="470.96" class="d">0.01</text>
<text x="309.77" y="470.96" class="d">0.05</text>
<text x="325.28" y="470.96" class="d">0.03</text>
<text x="340.79" y="470.96" class="d">-0.01</text>
<text x="356.30" y="470.96" class="d">0.04</text>
<text x="371.80" y="470.96" class="d">0.13</text>
<text x="387.31" y="470.96" class="d">0.19</text>
<text x="402.82" y="470.96" class="d">0.15</text>
<text x="418.33" y="470.96" class="d">0.08</text>
<text x="433.84" y="470.96" class="d">0.01</text>
<text x="449.35" y="470.96" class="d">-0.02</text>
<text x="278.75" y="482.32" class="d">-0.01</text>
<text x="294.26" y="482.32" class="d">-0.00</text>
<text x="309.77" y="482.32" class="d">0.01</text>
<text x="325.28" y="482.32" class="d">-0.01</text>
<text x="340.79" y="482.32" class="d">-0.03</text>
<text x="356.30" y="482.32" class="d">0.08</text>
<text x="371.80" y="482.32" class="d">0.17</text>
<text x="387.31" y="482.32" class="d">0.14</text>
<text x="402.82" y="482.32" class="d">0.05</text>
<text x="418.33" y="482.32" class="d">0.02</text>
<text x="433.84" y="482.32" class="d">-0.00</text>
<text x="449.35" y="482.32" class="d">-0.00</text>
<text x="278.75" y="493.69" class="d">-0.00</text>
<text x="294.26" y="493.69" class="d">0.00</text>
<text x="309.77" y="493.69" class="d">0.02</text>
<text x="325.28" y="493.69" class="d">0.00</text>
<text x="340.79" y="493.69" class="d">0.02</text>
<text x="356.30" y="493.69" class="d">0.10</text>
<text x="371.80" y="493.69" class="d">0.16</text>
<text x="387.31" y="493.69" class="d">0.09</text>
<text x="402.82" y="493.69" class="d">0.03</text>
<text x="418.33" y="493.69" class="d">0.00</text>
<text x="433.84" y="493.69" class="d">-0.00</text>
<text x="449.35" y="493.69" class="d">0.00</text>
<text x="278.75" y="505.05" class="d">0.03</text>
<text x="294.26" y="505.05" class="d">0.03</text>
<text x="309.77" y="505.05" class="d">0.03</text>
<text x="325.28" y="505.05" class="d">0.01</text>
<text x="340.79" y="505.05" class="d">0.02</text>
<text x="356.30" y="505.05" class="d">0.09</text>
<text x="371.80" y="505.05" class="d">0.08</text>
<text x="387.31" y="505.05" class="d">0.06</text>
<text x="402.82" y="505.05" class="d">0.04</text>
<text x="418.33" y="505.05" class="d">0.03</text>
<text x="433.84" y="505.05" class="d">0.02</text>
<text x="449.35" y="505.05" class="d">0.02</text>
<text x="278.75" y="516.41" class="d">0.00</text>
<text x="294.26" y="516.41" class="d">0.01</text>
<text x="309.77" y="516.41" class="d">0.02</text>
<text x="325.28" y="516.41" class="d">0.01</text>
<text x="340.79" y="516.41" class="d">0.03</text>
<text x="356.30" y="516.41" class="d">0.05</text>
<text x="371.80" y="516.41" class="d">0.03</text>
<text x="387.31" y="516.41" class="d">0.02</text>
<text x="402.82" y="516.41" class="d">0.02</text>
<text x="418.33" y="516.41" class="d">0.02</text>
<text x="433.84" y="516.41" class="d">0.02</text>
<text x="449.35" y="516.41" class="d">0.01</text>
</g>
<g font-size="7.0" text-anchor="end" fill="#111">
<line x1="268.8" x2="271.0" y1="377.78" y2="377.78" stroke="#666" stroke-width="0.45"/>
<text x="267.7" y="380.27">13</text>
<line x1="268.8" x2="271.0" y1="389.14" y2="389.14" stroke="#666" stroke-width="0.45"/>
<text x="267.7" y="391.63">12</text>
<line x1="268.8" x2="271.0" y1="400.50" y2="400.50" stroke="#666" stroke-width="0.45"/>
<text x="267.7" y="402.99">11</text>
<line x1="268.8" x2="271.0" y1="411.87" y2="411.87" stroke="#666" stroke-width="0.45"/>
<text x="267.7" y="414.35">10</text>
<line x1="268.8" x2="271.0" y1="423.23" y2="423.23" stroke="#666" stroke-width="0.45"/>
<text x="267.7" y="425.71">9</text>
<line x1="268.8" x2="271.0" y1="434.59" y2="434.59" stroke="#666" stroke-width="0.45"/>
<text x="267.7" y="437.07">8</text>
<line x1="268.8" x2="271.0" y1="445.95" y2="445.95" stroke="#666" stroke-width="0.45"/>
<text x="267.7" y="448.44">7</text>
<line x1="268.8" x2="271.0" y1="457.31" y2="457.31" stroke="#666" stroke-width="0.45"/>
<text x="267.7" y="459.80">6</text>
<line x1="268.8" x2="271.0" y1="468.67" y2="468.67" stroke="#666" stroke-width="0.45"/>
<text x="267.7" y="471.16">5</text>
<line x1="268.8" x2="271.0" y1="480.03" y2="480.03" stroke="#666" stroke-width="0.45"/>
<text x="267.7" y="482.52">4</text>
<line x1="268.8" x2="271.0" y1="491.40" y2="491.40" stroke="#666" stroke-width="0.45"/>
<text x="267.7" y="493.88">3</text>
<line x1="268.8" x2="271.0" y1="502.76" y2="502.76" stroke="#666" stroke-width="0.45"/>
<text x="267.7" y="505.24">2</text>
<line x1="268.8" x2="271.0" y1="514.12" y2="514.12" stroke="#666" stroke-width="0.45"/>
<text x="267.7" y="516.60">1</text>
</g>
<g font-size="7.0" text-anchor="middle" fill="#111">
<line x1="278.75" x2="278.75" y1="519.8" y2="522.0" stroke="#666" stroke-width="0.45"/>
<text transform="translate(277.95,529.10) rotate(-28)" y="2.48">DJF</text>
<line x1="294.26" x2="294.26" y1="519.8" y2="522.0" stroke="#666" stroke-width="0.45"/>
<text transform="translate(293.46,529.10) rotate(-28)" y="2.48">JFM</text>
<line x1="309.77" x2="309.77" y1="519.8" y2="522.0" stroke="#666" stroke-width="0.45"/>
<text transform="translate(308.97,529.10) rotate(-28)" y="2.48">FMA</text>
<line x1="325.28" x2="325.28" y1="519.8" y2="522.0" stroke="#666" stroke-width="0.45"/>
<text transform="translate(324.48,529.10) rotate(-28)" y="2.48">MAM</text>
<line x1="340.79" x2="340.79" y1="519.8" y2="522.0" stroke="#666" stroke-width="0.45"/>
<text transform="translate(339.99,529.10) rotate(-28)" y="2.48">AMJ</text>
<line x1="356.30" x2="356.30" y1="519.8" y2="522.0" stroke="#666" stroke-width="0.45"/>
<text transform="translate(355.50,529.10) rotate(-28)" y="2.48">MJJ</text>
<line x1="371.80" x2="371.80" y1="519.8" y2="522.0" stroke="#666" stroke-width="0.45"/>
<text transform="translate(371.00,529.10) rotate(-28)" y="2.48">JJA</text>
<line x1="387.31" x2="387.31" y1="519.8" y2="522.0" stroke="#666" stroke-width="0.45"/>
<text transform="translate(386.51,529.10) rotate(-28)" y="2.48">JAS</text>
<line x1="402.82" x2="402.82" y1="519.8" y2="522.0" stroke="#666" stroke-width="0.45"/>
<text transform="translate(402.02,529.10) rotate(-28)" y="2.48">ASO</text>
<line x1="418.33" x2="418.33" y1="519.8" y2="522.0" stroke="#666" stroke-width="0.45"/>
<text transform="translate(417.53,529.10) rotate(-28)" y="2.48">SON</text>
<line x1="433.84" x2="433.84" y1="519.8" y2="522.0" stroke="#666" stroke-width="0.45"/>
<text transform="translate(433.04,529.10) rotate(-28)" y="2.48">OND</text>
<line x1="449.35" x2="449.35" y1="519.8" y2="522.0" stroke="#666" stroke-width="0.45"/>
<text transform="translate(448.55,529.10) rotate(-28)" y="2.48">NDJ</text>
</g>
<rect x="468.7" y="372.1" width="8.1" height="147.7" fill="url(#cw)"/>
<g font-size="7.3" fill="#111">
<text x="478.6" y="522.89">−0.8</text>
<text x="478.6" y="504.43">−0.6</text>
<text x="478.6" y="485.97">−0.4</text>
<text x="478.6" y="467.50">−0.2</text>
<text x="478.6" y="449.04">0.0</text>
<text x="478.6" y="430.58">0.2</text>
<text x="478.6" y="412.12">0.4</text>
<text x="478.6" y="393.65">0.6</text>
<text x="478.6" y="375.19">0.8</text>
</g>
<text x="364.1" y="543.9" text-anchor="middle" font-size="7.4" fill="#111">Target Month</text>
</g>
</svg>
</body></html>
